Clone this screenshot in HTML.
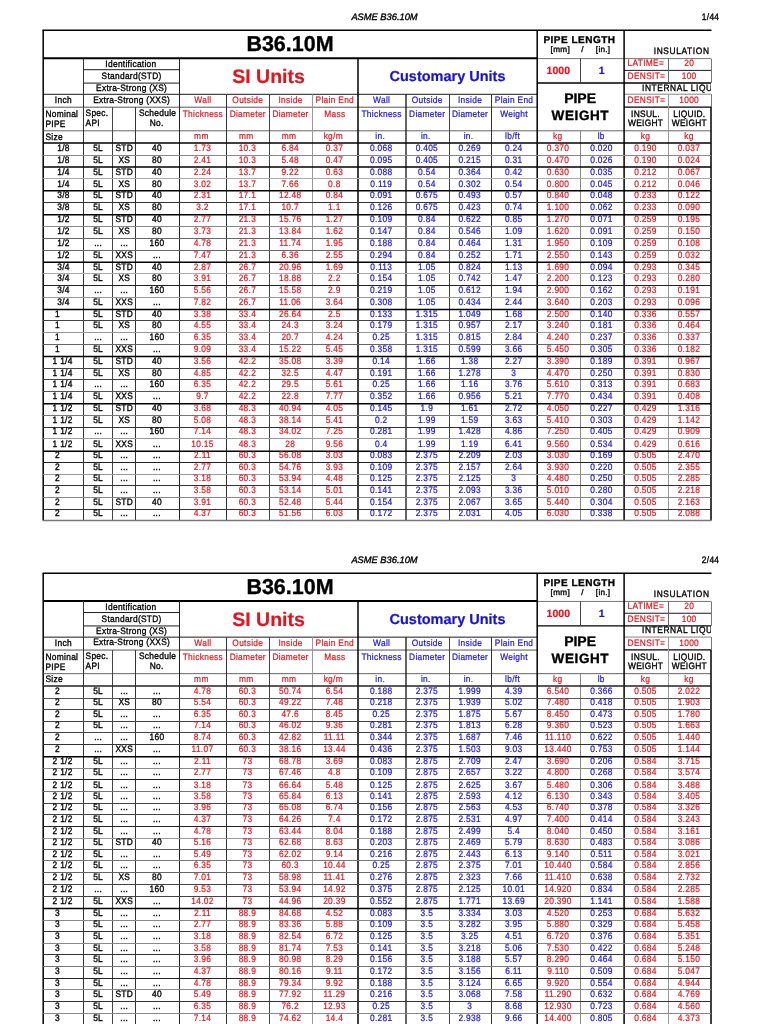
<!DOCTYPE html>
<html><head><meta charset="utf-8"><title>ASME B36.10M</title>
<style>
html,body{margin:0;padding:0;background:#fff;}
body{width:768px;height:1024px;overflow:hidden;}
svg{display:block;font-family:'Liberation Sans', Arial, sans-serif;text-rendering:geometricPrecision;}
text{fill:#000;stroke:#000;stroke-width:0.35;}
text.r{fill:#dc1820;stroke:#dc1820;stroke-width:0.22;}
text.b{fill:#1a14d0;stroke:#1a14d0;stroke-width:0.22;}
</style></head><body>
<svg width="768" height="1024" viewBox="0 0 768 1024" fill="#000">
<rect width="768" height="1024" fill="#fff"/>
<text x="384.50" y="20.00" font-size="9.3" text-anchor="middle" font-style="italic">ASME B36.10M</text>
<text x="290.00" y="50.80" font-size="21.5" text-anchor="middle" font-weight="bold">B36.10M</text>
<text x="268.50" y="82.70" font-size="19.5" text-anchor="middle" class="r" font-weight="bold">SI Units</text>
<text x="447.50" y="80.80" font-size="14.5" text-anchor="middle" class="b" font-weight="bold">Customary Units</text>
<text x="579.50" y="43.20" font-size="10" text-anchor="middle" font-weight="bold" letter-spacing="0.5">PIPE LENGTH</text>
<text x="560.30" y="52.30" font-size="8.2" text-anchor="middle" letter-spacing="0.3">[mm]</text>
<text x="582.40" y="52.30" font-size="8.2" text-anchor="middle">/</text>
<text x="603.10" y="52.30" font-size="8.2" text-anchor="middle" letter-spacing="0.25">[in.]</text>
<text x="558.30" y="73.80" font-size="10.5" text-anchor="middle" class="r" font-weight="bold">1000</text>
<text x="601.60" y="73.80" font-size="10.5" text-anchor="middle" class="b" font-weight="bold">1</text>
<text x="580.10" y="102.90" font-size="14" text-anchor="middle" font-weight="bold">PIPE</text>
<text x="580.40" y="120.00" font-size="13.5" text-anchor="middle" font-weight="bold" letter-spacing="0.6">WEIGHT</text>
<g clip-path="url(#clipR1)"><text x="713.33" y="90.50" font-size="9.3" letter-spacing="0.67" transform="scale(0.9,1)">INTERNAL LIQUID</text></g>
<clipPath id="clipR1"><rect x="600" y="80" width="111" height="20"/></clipPath>
<line x1="42.50" y1="30.30" x2="711.50" y2="30.30" stroke="#000" stroke-width="1.5"/>
<line x1="43.20" y1="30.30" x2="43.20" y2="520.20" stroke="#000" stroke-width="1.5"/>
<line x1="43.20" y1="58.20" x2="537.20" y2="58.20" stroke="#000" stroke-width="2"/>
<line x1="537.20" y1="58.60" x2="624.10" y2="58.60" stroke="#666" stroke-width="0.9"/>
<line x1="624.10" y1="58.60" x2="711.00" y2="58.60" stroke="#666" stroke-width="0.9"/>
<line x1="83.30" y1="69.70" x2="179.70" y2="69.70" stroke="#000" stroke-width="0.9"/>
<line x1="83.30" y1="83.10" x2="179.70" y2="83.10" stroke="#000" stroke-width="0.9"/>
<line x1="43.20" y1="94.30" x2="537.20" y2="94.30" stroke="#000" stroke-width="0.9"/>
<line x1="43.20" y1="107.20" x2="537.20" y2="107.20" stroke="#444" stroke-width="0.9"/>
<line x1="43.20" y1="130.80" x2="711.00" y2="130.80" stroke="#555" stroke-width="0.9"/>
<line x1="624.10" y1="70.40" x2="711.00" y2="70.40" stroke="#000" stroke-width="0.9"/>
<line x1="537.20" y1="83.00" x2="711.00" y2="83.00" stroke="#000" stroke-width="1.3"/>
<line x1="624.10" y1="94.20" x2="711.00" y2="94.20" stroke="#777" stroke-width="0.9"/>
<line x1="624.10" y1="107.10" x2="711.00" y2="107.10" stroke="#000" stroke-width="1.3"/>
<line x1="83.50" y1="58.20" x2="83.50" y2="520.20" stroke="#333" stroke-width="1"/>
<line x1="112.50" y1="107.20" x2="112.50" y2="520.20" stroke="#444" stroke-width="1"/>
<line x1="135.50" y1="107.20" x2="135.50" y2="520.20" stroke="#333" stroke-width="1"/>
<line x1="179.50" y1="58.20" x2="179.50" y2="520.20" stroke="#222" stroke-width="1"/>
<line x1="226.50" y1="94.30" x2="226.50" y2="520.20" stroke="#333" stroke-width="1"/>
<line x1="269.50" y1="94.30" x2="269.50" y2="520.20" stroke="#444" stroke-width="1"/>
<line x1="312.50" y1="94.30" x2="312.50" y2="520.20" stroke="#999" stroke-width="1"/>
<line x1="358.00" y1="58.20" x2="358.00" y2="520.20" stroke="#000" stroke-width="1.5"/>
<line x1="406.00" y1="94.30" x2="406.00" y2="520.20" stroke="#111" stroke-width="1.3"/>
<line x1="449.50" y1="94.30" x2="449.50" y2="520.20" stroke="#444" stroke-width="1"/>
<line x1="491.50" y1="94.30" x2="491.50" y2="520.20" stroke="#333" stroke-width="1"/>
<line x1="537.20" y1="30.30" x2="537.20" y2="520.20" stroke="#000" stroke-width="1.5"/>
<line x1="580.50" y1="58.60" x2="580.50" y2="83.00" stroke="#444" stroke-width="1"/>
<line x1="580.50" y1="130.80" x2="580.50" y2="520.20" stroke="#888" stroke-width="1"/>
<line x1="624.10" y1="30.30" x2="624.10" y2="520.20" stroke="#000" stroke-width="1.5"/>
<line x1="668.50" y1="58.60" x2="668.50" y2="83.00" stroke="#666" stroke-width="1"/>
<line x1="668.50" y1="94.20" x2="668.50" y2="520.20" stroke="#999" stroke-width="1"/>
<line x1="711.50" y1="58.60" x2="711.50" y2="83.00" stroke="#777" stroke-width="1"/>
<line x1="711.50" y1="94.20" x2="711.50" y2="107.10" stroke="#777" stroke-width="1"/>
<line x1="711.00" y1="107.10" x2="711.00" y2="520.20" stroke="#000" stroke-width="1.5"/>
<line x1="43.20" y1="143.10" x2="711.00" y2="143.10" stroke="#000" stroke-width="1.5"/>
<line x1="43.20" y1="155.50" x2="711.00" y2="155.50" stroke="#888" stroke-width="1"/>
<line x1="43.20" y1="167.10" x2="711.00" y2="167.10" stroke="#000" stroke-width="1.5"/>
<line x1="43.20" y1="178.50" x2="711.00" y2="178.50" stroke="#aaa" stroke-width="1"/>
<line x1="43.20" y1="190.80" x2="711.00" y2="190.80" stroke="#000" stroke-width="1.5"/>
<line x1="43.20" y1="202.50" x2="711.00" y2="202.50" stroke="#333" stroke-width="1"/>
<line x1="43.20" y1="214.70" x2="711.00" y2="214.70" stroke="#000" stroke-width="1.5"/>
<line x1="43.20" y1="226.50" x2="711.00" y2="226.50" stroke="#888" stroke-width="1"/>
<line x1="43.20" y1="238.50" x2="711.00" y2="238.50" stroke="#666" stroke-width="1"/>
<line x1="43.20" y1="250.50" x2="711.00" y2="250.50" stroke="#666" stroke-width="1"/>
<line x1="43.20" y1="262.30" x2="711.00" y2="262.30" stroke="#000" stroke-width="1.5"/>
<line x1="43.20" y1="273.50" x2="711.00" y2="273.50" stroke="#aaa" stroke-width="1"/>
<line x1="43.20" y1="285.50" x2="711.00" y2="285.50" stroke="#222" stroke-width="1"/>
<line x1="43.20" y1="297.50" x2="711.00" y2="297.50" stroke="#999" stroke-width="1"/>
<line x1="43.20" y1="309.40" x2="711.00" y2="309.40" stroke="#000" stroke-width="1.5"/>
<line x1="43.20" y1="320.50" x2="711.00" y2="320.50" stroke="#444" stroke-width="1"/>
<line x1="43.20" y1="332.50" x2="711.00" y2="332.50" stroke="#999" stroke-width="1"/>
<line x1="43.20" y1="344.50" x2="711.00" y2="344.50" stroke="#666" stroke-width="1"/>
<line x1="43.20" y1="356.40" x2="711.00" y2="356.40" stroke="#000" stroke-width="1.5"/>
<line x1="43.20" y1="368.50" x2="711.00" y2="368.50" stroke="#444" stroke-width="1"/>
<line x1="43.20" y1="379.50" x2="711.00" y2="379.50" stroke="#444" stroke-width="1"/>
<line x1="43.20" y1="391.50" x2="711.00" y2="391.50" stroke="#555" stroke-width="1"/>
<line x1="43.20" y1="403.70" x2="711.00" y2="403.70" stroke="#000" stroke-width="1.5"/>
<line x1="43.20" y1="415.50" x2="711.00" y2="415.50" stroke="#777" stroke-width="1"/>
<line x1="43.20" y1="427.50" x2="711.00" y2="427.50" stroke="#333" stroke-width="1"/>
<line x1="43.20" y1="438.50" x2="711.00" y2="438.50" stroke="#999" stroke-width="1"/>
<line x1="43.20" y1="451.20" x2="711.00" y2="451.20" stroke="#000" stroke-width="1.5"/>
<line x1="43.20" y1="462.50" x2="711.00" y2="462.50" stroke="#222" stroke-width="1"/>
<line x1="43.20" y1="474.50" x2="711.00" y2="474.50" stroke="#999" stroke-width="1"/>
<line x1="43.20" y1="485.50" x2="711.00" y2="485.50" stroke="#333" stroke-width="1"/>
<line x1="43.20" y1="497.50" x2="711.00" y2="497.50" stroke="#888" stroke-width="1"/>
<line x1="43.20" y1="509.50" x2="711.00" y2="509.50" stroke="#333" stroke-width="1"/>
<line x1="42.50" y1="520.60" x2="711.70" y2="520.60" stroke="#777" stroke-width="1.5"/>
<text x="384.50" y="562.85" font-size="9.3" text-anchor="middle" font-style="italic">ASME B36.10M</text>
<text x="290.00" y="593.65" font-size="21.5" text-anchor="middle" font-weight="bold">B36.10M</text>
<text x="268.50" y="625.55" font-size="19.5" text-anchor="middle" class="r" font-weight="bold">SI Units</text>
<text x="447.50" y="623.65" font-size="14.5" text-anchor="middle" class="b" font-weight="bold">Customary Units</text>
<text x="579.50" y="586.05" font-size="10" text-anchor="middle" font-weight="bold" letter-spacing="0.5">PIPE LENGTH</text>
<text x="560.30" y="595.15" font-size="8.2" text-anchor="middle" letter-spacing="0.3">[mm]</text>
<text x="582.40" y="595.15" font-size="8.2" text-anchor="middle">/</text>
<text x="603.10" y="595.15" font-size="8.2" text-anchor="middle" letter-spacing="0.25">[in.]</text>
<text x="558.30" y="616.65" font-size="10.5" text-anchor="middle" class="r" font-weight="bold">1000</text>
<text x="601.60" y="616.65" font-size="10.5" text-anchor="middle" class="b" font-weight="bold">1</text>
<text x="580.10" y="645.75" font-size="14" text-anchor="middle" font-weight="bold">PIPE</text>
<text x="580.40" y="662.85" font-size="13.5" text-anchor="middle" font-weight="bold" letter-spacing="0.6">WEIGHT</text>
<g clip-path="url(#clipR2)"><text x="713.33" y="633.35" font-size="9.3" letter-spacing="0.67" transform="scale(0.9,1)">INTERNAL LIQUID</text></g>
<clipPath id="clipR2"><rect x="600" y="622.85" width="111" height="20"/></clipPath>
<line x1="42.50" y1="573.15" x2="711.50" y2="573.15" stroke="#000" stroke-width="1.5"/>
<line x1="43.20" y1="573.15" x2="43.20" y2="1024.00" stroke="#000" stroke-width="1.5"/>
<line x1="43.20" y1="601.05" x2="537.20" y2="601.05" stroke="#000" stroke-width="2"/>
<line x1="537.20" y1="601.45" x2="624.10" y2="601.45" stroke="#666" stroke-width="0.9"/>
<line x1="624.10" y1="601.45" x2="711.00" y2="601.45" stroke="#666" stroke-width="0.9"/>
<line x1="83.30" y1="612.55" x2="179.70" y2="612.55" stroke="#000" stroke-width="0.9"/>
<line x1="83.30" y1="625.95" x2="179.70" y2="625.95" stroke="#000" stroke-width="0.9"/>
<line x1="43.20" y1="637.15" x2="537.20" y2="637.15" stroke="#000" stroke-width="0.9"/>
<line x1="43.20" y1="650.05" x2="537.20" y2="650.05" stroke="#444" stroke-width="0.9"/>
<line x1="43.20" y1="673.65" x2="711.00" y2="673.65" stroke="#555" stroke-width="0.9"/>
<line x1="624.10" y1="613.25" x2="711.00" y2="613.25" stroke="#000" stroke-width="0.9"/>
<line x1="537.20" y1="625.85" x2="711.00" y2="625.85" stroke="#000" stroke-width="1.3"/>
<line x1="624.10" y1="637.05" x2="711.00" y2="637.05" stroke="#777" stroke-width="0.9"/>
<line x1="624.10" y1="649.95" x2="711.00" y2="649.95" stroke="#000" stroke-width="1.3"/>
<line x1="83.50" y1="601.05" x2="83.50" y2="1024.00" stroke="#333" stroke-width="1"/>
<line x1="112.50" y1="650.05" x2="112.50" y2="1024.00" stroke="#444" stroke-width="1"/>
<line x1="135.50" y1="650.05" x2="135.50" y2="1024.00" stroke="#333" stroke-width="1"/>
<line x1="179.50" y1="601.05" x2="179.50" y2="1024.00" stroke="#222" stroke-width="1"/>
<line x1="226.50" y1="637.15" x2="226.50" y2="1024.00" stroke="#333" stroke-width="1"/>
<line x1="269.50" y1="637.15" x2="269.50" y2="1024.00" stroke="#444" stroke-width="1"/>
<line x1="312.50" y1="637.15" x2="312.50" y2="1024.00" stroke="#999" stroke-width="1"/>
<line x1="358.00" y1="601.05" x2="358.00" y2="1024.00" stroke="#000" stroke-width="1.5"/>
<line x1="406.00" y1="637.15" x2="406.00" y2="1024.00" stroke="#111" stroke-width="1.3"/>
<line x1="449.50" y1="637.15" x2="449.50" y2="1024.00" stroke="#444" stroke-width="1"/>
<line x1="491.50" y1="637.15" x2="491.50" y2="1024.00" stroke="#333" stroke-width="1"/>
<line x1="537.20" y1="573.15" x2="537.20" y2="1024.00" stroke="#000" stroke-width="1.5"/>
<line x1="580.50" y1="601.45" x2="580.50" y2="625.85" stroke="#444" stroke-width="1"/>
<line x1="580.50" y1="673.65" x2="580.50" y2="1024.00" stroke="#888" stroke-width="1"/>
<line x1="624.10" y1="573.15" x2="624.10" y2="1024.00" stroke="#000" stroke-width="1.5"/>
<line x1="668.50" y1="601.45" x2="668.50" y2="625.85" stroke="#666" stroke-width="1"/>
<line x1="668.50" y1="637.05" x2="668.50" y2="1024.00" stroke="#999" stroke-width="1"/>
<line x1="711.50" y1="601.45" x2="711.50" y2="625.85" stroke="#777" stroke-width="1"/>
<line x1="711.50" y1="637.05" x2="711.50" y2="649.95" stroke="#777" stroke-width="1"/>
<line x1="711.00" y1="649.95" x2="711.00" y2="1024.00" stroke="#000" stroke-width="1.5"/>
<line x1="43.20" y1="685.90" x2="711.00" y2="685.90" stroke="#222" stroke-width="1.5"/>
<line x1="43.20" y1="698.50" x2="711.00" y2="698.50" stroke="#555" stroke-width="1"/>
<line x1="43.20" y1="709.50" x2="711.00" y2="709.50" stroke="#444" stroke-width="1"/>
<line x1="43.20" y1="721.50" x2="711.00" y2="721.50" stroke="#444" stroke-width="1"/>
<line x1="43.20" y1="732.50" x2="711.00" y2="732.50" stroke="#444" stroke-width="1"/>
<line x1="43.20" y1="744.50" x2="711.00" y2="744.50" stroke="#333" stroke-width="1"/>
<line x1="43.20" y1="756.70" x2="711.00" y2="756.70" stroke="#000" stroke-width="1.5"/>
<line x1="43.20" y1="768.50" x2="711.00" y2="768.50" stroke="#888" stroke-width="1"/>
<line x1="43.20" y1="779.50" x2="711.00" y2="779.50" stroke="#222" stroke-width="1"/>
<line x1="43.20" y1="791.50" x2="711.00" y2="791.50" stroke="#777" stroke-width="1"/>
<line x1="43.20" y1="803.50" x2="711.00" y2="803.50" stroke="#444" stroke-width="1"/>
<line x1="43.20" y1="814.50" x2="711.00" y2="814.50" stroke="#444" stroke-width="1"/>
<line x1="43.20" y1="826.50" x2="711.00" y2="826.50" stroke="#222" stroke-width="1"/>
<line x1="43.20" y1="838.50" x2="711.00" y2="838.50" stroke="#999" stroke-width="1"/>
<line x1="43.20" y1="849.50" x2="711.00" y2="849.50" stroke="#555" stroke-width="1"/>
<line x1="43.20" y1="860.50" x2="711.00" y2="860.50" stroke="#777" stroke-width="1"/>
<line x1="43.20" y1="872.50" x2="711.00" y2="872.50" stroke="#666" stroke-width="1"/>
<line x1="43.20" y1="884.50" x2="711.00" y2="884.50" stroke="#444" stroke-width="1"/>
<line x1="43.20" y1="896.50" x2="711.00" y2="896.50" stroke="#444" stroke-width="1"/>
<line x1="43.20" y1="908.40" x2="711.00" y2="908.40" stroke="#000" stroke-width="1.5"/>
<line x1="43.20" y1="920.50" x2="711.00" y2="920.50" stroke="#888" stroke-width="1"/>
<line x1="43.20" y1="931.50" x2="711.00" y2="931.50" stroke="#333" stroke-width="1"/>
<line x1="43.20" y1="943.50" x2="711.00" y2="943.50" stroke="#888" stroke-width="1"/>
<line x1="43.20" y1="954.50" x2="711.00" y2="954.50" stroke="#333" stroke-width="1"/>
<line x1="43.20" y1="966.50" x2="711.00" y2="966.50" stroke="#777" stroke-width="1"/>
<line x1="43.20" y1="978.50" x2="711.00" y2="978.50" stroke="#222" stroke-width="1"/>
<line x1="43.20" y1="989.50" x2="711.00" y2="989.50" stroke="#888" stroke-width="1"/>
<line x1="43.20" y1="1001.50" x2="711.00" y2="1001.50" stroke="#333" stroke-width="1"/>
<line x1="43.20" y1="1013.50" x2="711.00" y2="1013.50" stroke="#888" stroke-width="1"/>
<line x1="43.20" y1="1024.50" x2="711.00" y2="1024.50" stroke="#666" stroke-width="1"/>
<g transform="scale(0.9,1)">
<text x="799.22" y="19.80" font-size="9.3" text-anchor="end" letter-spacing="0.33">1/44</text>
<text x="145.50" y="66.70" font-size="9.3" text-anchor="middle" letter-spacing="0.33">Identification</text>
<text x="146.28" y="79.20" font-size="9.3" text-anchor="middle" letter-spacing="0.33">Standard(STD)</text>
<text x="146.28" y="91.40" font-size="9.3" text-anchor="middle" letter-spacing="0.33">Extra-Strong (XS)</text>
<text x="70.39" y="102.70" font-size="9.3" text-anchor="middle" letter-spacing="0.33">Inch</text>
<text x="146.28" y="102.60" font-size="9.3" text-anchor="middle" letter-spacing="0.33">Extra-Strong (XXS)</text>
<text x="50.56" y="116.90" font-size="9.3" letter-spacing="0.33">Nominal</text>
<text x="50.56" y="127.00" font-size="9.3" letter-spacing="0.33">PIPE</text>
<text x="95.00" y="116.40" font-size="9.3" letter-spacing="0.33">Spec.</text>
<text x="95.00" y="126.10" font-size="9.3" letter-spacing="0.33">API</text>
<text x="175.16" y="116.00" font-size="9.3" text-anchor="middle" letter-spacing="0.33">Schedule</text>
<text x="174.05" y="126.10" font-size="9.3" text-anchor="middle" letter-spacing="0.33">No.</text>
<text x="50.56" y="139.60" font-size="9.3" letter-spacing="0.33">Size</text>
<text x="225.44" y="102.70" font-size="9.3" text-anchor="middle" class="r" letter-spacing="0.33">Wall</text>
<text x="225.44" y="117.00" font-size="9.3" text-anchor="middle" class="r" letter-spacing="0.33">Thickness</text>
<text x="223.78" y="139.10" font-size="9.3" text-anchor="middle" class="r" letter-spacing="0.33">mm</text>
<text x="424.05" y="102.70" font-size="9.3" text-anchor="middle" class="b" letter-spacing="0.33">Wall</text>
<text x="424.05" y="117.00" font-size="9.3" text-anchor="middle" class="b" letter-spacing="0.33">Thickness</text>
<text x="422.39" y="139.10" font-size="9.3" text-anchor="middle" class="b" letter-spacing="0.33">in.</text>
<text x="275.33" y="102.70" font-size="9.3" text-anchor="middle" class="r" letter-spacing="0.33">Outside</text>
<text x="275.33" y="117.00" font-size="9.3" text-anchor="middle" class="r" letter-spacing="0.33">Diameter</text>
<text x="273.67" y="139.10" font-size="9.3" text-anchor="middle" class="r" letter-spacing="0.33">mm</text>
<text x="474.72" y="102.70" font-size="9.3" text-anchor="middle" class="b" letter-spacing="0.33">Outside</text>
<text x="474.72" y="117.00" font-size="9.3" text-anchor="middle" class="b" letter-spacing="0.33">Diameter</text>
<text x="473.05" y="139.10" font-size="9.3" text-anchor="middle" class="b" letter-spacing="0.33">in.</text>
<text x="322.83" y="102.70" font-size="9.3" text-anchor="middle" class="r" letter-spacing="0.33">Inside</text>
<text x="322.83" y="117.00" font-size="9.3" text-anchor="middle" class="r" letter-spacing="0.33">Diameter</text>
<text x="321.16" y="139.10" font-size="9.3" text-anchor="middle" class="r" letter-spacing="0.33">mm</text>
<text x="522.28" y="102.70" font-size="9.3" text-anchor="middle" class="b" letter-spacing="0.33">Inside</text>
<text x="522.28" y="117.00" font-size="9.3" text-anchor="middle" class="b" letter-spacing="0.33">Diameter</text>
<text x="520.61" y="139.10" font-size="9.3" text-anchor="middle" class="b" letter-spacing="0.33">in.</text>
<text x="372.00" y="102.70" font-size="9.3" text-anchor="middle" class="r" letter-spacing="0.33">Plain End</text>
<text x="372.00" y="117.00" font-size="9.3" text-anchor="middle" class="r" letter-spacing="0.33">Mass</text>
<text x="370.33" y="139.10" font-size="9.3" text-anchor="middle" class="r" letter-spacing="0.33">kg/m</text>
<text x="571.17" y="102.70" font-size="9.3" text-anchor="middle" class="b" letter-spacing="0.33">Plain End</text>
<text x="571.17" y="117.00" font-size="9.3" text-anchor="middle" class="b" letter-spacing="0.33">Weight</text>
<text x="569.50" y="139.10" font-size="9.3" text-anchor="middle" class="b" letter-spacing="0.33">lb/ft</text>
<text x="619.83" y="139.10" font-size="9.3" text-anchor="middle" class="r" letter-spacing="0.33">kg</text>
<text x="668.05" y="139.10" font-size="9.3" text-anchor="middle" class="b" letter-spacing="0.33">lb</text>
<text x="788.48" y="54.30" font-size="9.3" text-anchor="end" letter-spacing="0.7">INSULATION</text>
<text x="697.33" y="65.70" font-size="9.3" class="r" letter-spacing="0.33">LATIME=</text>
<text x="765.72" y="65.70" font-size="9.3" text-anchor="middle" class="r" letter-spacing="0.33">20</text>
<text x="697.33" y="78.70" font-size="9.3" class="r" letter-spacing="0.33">DENSIT=</text>
<text x="765.72" y="78.70" font-size="9.3" text-anchor="middle" class="r" letter-spacing="0.33">100</text>
<text x="697.33" y="102.90" font-size="9.3" class="r" letter-spacing="0.33">DENSIT=</text>
<text x="765.72" y="102.90" font-size="9.3" text-anchor="middle" class="r" letter-spacing="0.33">1000</text>
<text x="717.16" y="116.80" font-size="9.3" text-anchor="middle" letter-spacing="0.33">INSUL.</text>
<text x="717.39" y="126.40" font-size="9.3" text-anchor="middle" letter-spacing="0.33">WEIGHT</text>
<text x="765.94" y="116.80" font-size="9.3" text-anchor="middle" letter-spacing="0.33">LIQUID.</text>
<text x="765.94" y="126.40" font-size="9.3" text-anchor="middle" letter-spacing="0.33">WEIGHT</text>
<text x="717.16" y="139.10" font-size="9.3" text-anchor="middle" class="r" letter-spacing="0.33">kg</text>
<text x="765.50" y="139.10" font-size="9.3" text-anchor="middle" class="r" letter-spacing="0.33">kg</text>
<text x="63.67" y="150.80" font-size="9.3" letter-spacing="0.33">1/8</text>
<text x="109.00" y="150.80" font-size="9.3" text-anchor="middle" letter-spacing="0.33">5L</text>
<text x="138.11" y="150.80" font-size="9.3" text-anchor="middle" letter-spacing="0.33">STD</text>
<text x="174.39" y="150.80" font-size="9.3" text-anchor="middle" letter-spacing="0.33">40</text>
<text x="225.00" y="150.80" font-size="9.3" text-anchor="middle" class="r" letter-spacing="0.33">1.73</text>
<text x="423.61" y="150.80" font-size="9.3" text-anchor="middle" class="b" letter-spacing="0.33">0.068</text>
<text x="274.89" y="150.80" font-size="9.3" text-anchor="middle" class="r" letter-spacing="0.33">10.3</text>
<text x="474.28" y="150.80" font-size="9.3" text-anchor="middle" class="b" letter-spacing="0.33">0.405</text>
<text x="322.39" y="150.80" font-size="9.3" text-anchor="middle" class="r" letter-spacing="0.33">6.84</text>
<text x="521.83" y="150.80" font-size="9.3" text-anchor="middle" class="b" letter-spacing="0.33">0.269</text>
<text x="371.55" y="150.80" font-size="9.3" text-anchor="middle" class="r" letter-spacing="0.33">0.37</text>
<text x="570.72" y="150.80" font-size="9.3" text-anchor="middle" class="b" letter-spacing="0.33">0.24</text>
<text x="620.05" y="150.80" font-size="9.3" text-anchor="middle" class="r" letter-spacing="0.33">0.370</text>
<text x="668.33" y="150.80" font-size="9.3" text-anchor="middle" class="b" letter-spacing="0.33">0.020</text>
<text x="717.17" y="150.80" font-size="9.3" text-anchor="middle" class="r" letter-spacing="0.33">0.190</text>
<text x="765.44" y="150.80" font-size="9.3" text-anchor="middle" class="r" letter-spacing="0.33">0.037</text>
<text x="63.67" y="162.80" font-size="9.3" letter-spacing="0.33">1/8</text>
<text x="109.00" y="162.80" font-size="9.3" text-anchor="middle" letter-spacing="0.33">5L</text>
<text x="138.11" y="162.80" font-size="9.3" text-anchor="middle" letter-spacing="0.33">XS</text>
<text x="174.39" y="162.80" font-size="9.3" text-anchor="middle" letter-spacing="0.33">80</text>
<text x="225.00" y="162.80" font-size="9.3" text-anchor="middle" class="r" letter-spacing="0.33">2.41</text>
<text x="423.61" y="162.80" font-size="9.3" text-anchor="middle" class="b" letter-spacing="0.33">0.095</text>
<text x="274.89" y="162.80" font-size="9.3" text-anchor="middle" class="r" letter-spacing="0.33">10.3</text>
<text x="474.28" y="162.80" font-size="9.3" text-anchor="middle" class="b" letter-spacing="0.33">0.405</text>
<text x="322.39" y="162.80" font-size="9.3" text-anchor="middle" class="r" letter-spacing="0.33">5.48</text>
<text x="521.83" y="162.80" font-size="9.3" text-anchor="middle" class="b" letter-spacing="0.33">0.215</text>
<text x="371.55" y="162.80" font-size="9.3" text-anchor="middle" class="r" letter-spacing="0.33">0.47</text>
<text x="570.72" y="162.80" font-size="9.3" text-anchor="middle" class="b" letter-spacing="0.33">0.31</text>
<text x="620.05" y="162.80" font-size="9.3" text-anchor="middle" class="r" letter-spacing="0.33">0.470</text>
<text x="668.33" y="162.80" font-size="9.3" text-anchor="middle" class="b" letter-spacing="0.33">0.026</text>
<text x="717.17" y="162.80" font-size="9.3" text-anchor="middle" class="r" letter-spacing="0.33">0.190</text>
<text x="765.44" y="162.80" font-size="9.3" text-anchor="middle" class="r" letter-spacing="0.33">0.024</text>
<text x="63.67" y="174.60" font-size="9.3" letter-spacing="0.33">1/4</text>
<text x="109.00" y="174.60" font-size="9.3" text-anchor="middle" letter-spacing="0.33">5L</text>
<text x="138.11" y="174.60" font-size="9.3" text-anchor="middle" letter-spacing="0.33">STD</text>
<text x="174.39" y="174.60" font-size="9.3" text-anchor="middle" letter-spacing="0.33">40</text>
<text x="225.00" y="174.60" font-size="9.3" text-anchor="middle" class="r" letter-spacing="0.33">2.24</text>
<text x="423.61" y="174.60" font-size="9.3" text-anchor="middle" class="b" letter-spacing="0.33">0.088</text>
<text x="274.89" y="174.60" font-size="9.3" text-anchor="middle" class="r" letter-spacing="0.33">13.7</text>
<text x="474.28" y="174.60" font-size="9.3" text-anchor="middle" class="b" letter-spacing="0.33">0.54</text>
<text x="322.39" y="174.60" font-size="9.3" text-anchor="middle" class="r" letter-spacing="0.33">9.22</text>
<text x="521.83" y="174.60" font-size="9.3" text-anchor="middle" class="b" letter-spacing="0.33">0.364</text>
<text x="371.55" y="174.60" font-size="9.3" text-anchor="middle" class="r" letter-spacing="0.33">0.63</text>
<text x="570.72" y="174.60" font-size="9.3" text-anchor="middle" class="b" letter-spacing="0.33">0.42</text>
<text x="620.05" y="174.60" font-size="9.3" text-anchor="middle" class="r" letter-spacing="0.33">0.630</text>
<text x="668.33" y="174.60" font-size="9.3" text-anchor="middle" class="b" letter-spacing="0.33">0.035</text>
<text x="717.17" y="174.60" font-size="9.3" text-anchor="middle" class="r" letter-spacing="0.33">0.212</text>
<text x="765.44" y="174.60" font-size="9.3" text-anchor="middle" class="r" letter-spacing="0.33">0.067</text>
<text x="63.67" y="186.50" font-size="9.3" letter-spacing="0.33">1/4</text>
<text x="109.00" y="186.50" font-size="9.3" text-anchor="middle" letter-spacing="0.33">5L</text>
<text x="138.11" y="186.50" font-size="9.3" text-anchor="middle" letter-spacing="0.33">XS</text>
<text x="174.39" y="186.50" font-size="9.3" text-anchor="middle" letter-spacing="0.33">80</text>
<text x="225.00" y="186.50" font-size="9.3" text-anchor="middle" class="r" letter-spacing="0.33">3.02</text>
<text x="423.61" y="186.50" font-size="9.3" text-anchor="middle" class="b" letter-spacing="0.33">0.119</text>
<text x="274.89" y="186.50" font-size="9.3" text-anchor="middle" class="r" letter-spacing="0.33">13.7</text>
<text x="474.28" y="186.50" font-size="9.3" text-anchor="middle" class="b" letter-spacing="0.33">0.54</text>
<text x="322.39" y="186.50" font-size="9.3" text-anchor="middle" class="r" letter-spacing="0.33">7.66</text>
<text x="521.83" y="186.50" font-size="9.3" text-anchor="middle" class="b" letter-spacing="0.33">0.302</text>
<text x="371.55" y="186.50" font-size="9.3" text-anchor="middle" class="r" letter-spacing="0.33">0.8</text>
<text x="570.72" y="186.50" font-size="9.3" text-anchor="middle" class="b" letter-spacing="0.33">0.54</text>
<text x="620.05" y="186.50" font-size="9.3" text-anchor="middle" class="r" letter-spacing="0.33">0.800</text>
<text x="668.33" y="186.50" font-size="9.3" text-anchor="middle" class="b" letter-spacing="0.33">0.045</text>
<text x="717.17" y="186.50" font-size="9.3" text-anchor="middle" class="r" letter-spacing="0.33">0.212</text>
<text x="765.44" y="186.50" font-size="9.3" text-anchor="middle" class="r" letter-spacing="0.33">0.046</text>
<text x="63.67" y="198.00" font-size="9.3" letter-spacing="0.33">3/8</text>
<text x="109.00" y="198.00" font-size="9.3" text-anchor="middle" letter-spacing="0.33">5L</text>
<text x="138.11" y="198.00" font-size="9.3" text-anchor="middle" letter-spacing="0.33">STD</text>
<text x="174.39" y="198.00" font-size="9.3" text-anchor="middle" letter-spacing="0.33">40</text>
<text x="225.00" y="198.00" font-size="9.3" text-anchor="middle" class="r" letter-spacing="0.33">2.31</text>
<text x="423.61" y="198.00" font-size="9.3" text-anchor="middle" class="b" letter-spacing="0.33">0.091</text>
<text x="274.89" y="198.00" font-size="9.3" text-anchor="middle" class="r" letter-spacing="0.33">17.1</text>
<text x="474.28" y="198.00" font-size="9.3" text-anchor="middle" class="b" letter-spacing="0.33">0.675</text>
<text x="322.39" y="198.00" font-size="9.3" text-anchor="middle" class="r" letter-spacing="0.33">12.48</text>
<text x="521.83" y="198.00" font-size="9.3" text-anchor="middle" class="b" letter-spacing="0.33">0.493</text>
<text x="371.55" y="198.00" font-size="9.3" text-anchor="middle" class="r" letter-spacing="0.33">0.84</text>
<text x="570.72" y="198.00" font-size="9.3" text-anchor="middle" class="b" letter-spacing="0.33">0.57</text>
<text x="620.05" y="198.00" font-size="9.3" text-anchor="middle" class="r" letter-spacing="0.33">0.840</text>
<text x="668.33" y="198.00" font-size="9.3" text-anchor="middle" class="b" letter-spacing="0.33">0.048</text>
<text x="717.17" y="198.00" font-size="9.3" text-anchor="middle" class="r" letter-spacing="0.33">0.233</text>
<text x="765.44" y="198.00" font-size="9.3" text-anchor="middle" class="r" letter-spacing="0.33">0.122</text>
<text x="63.67" y="210.40" font-size="9.3" letter-spacing="0.33">3/8</text>
<text x="109.00" y="210.40" font-size="9.3" text-anchor="middle" letter-spacing="0.33">5L</text>
<text x="138.11" y="210.40" font-size="9.3" text-anchor="middle" letter-spacing="0.33">XS</text>
<text x="174.39" y="210.40" font-size="9.3" text-anchor="middle" letter-spacing="0.33">80</text>
<text x="225.00" y="210.40" font-size="9.3" text-anchor="middle" class="r" letter-spacing="0.33">3.2</text>
<text x="423.61" y="210.40" font-size="9.3" text-anchor="middle" class="b" letter-spacing="0.33">0.126</text>
<text x="274.89" y="210.40" font-size="9.3" text-anchor="middle" class="r" letter-spacing="0.33">17.1</text>
<text x="474.28" y="210.40" font-size="9.3" text-anchor="middle" class="b" letter-spacing="0.33">0.675</text>
<text x="322.39" y="210.40" font-size="9.3" text-anchor="middle" class="r" letter-spacing="0.33">10.7</text>
<text x="521.83" y="210.40" font-size="9.3" text-anchor="middle" class="b" letter-spacing="0.33">0.423</text>
<text x="371.55" y="210.40" font-size="9.3" text-anchor="middle" class="r" letter-spacing="0.33">1.1</text>
<text x="570.72" y="210.40" font-size="9.3" text-anchor="middle" class="b" letter-spacing="0.33">0.74</text>
<text x="620.05" y="210.40" font-size="9.3" text-anchor="middle" class="r" letter-spacing="0.33">1.100</text>
<text x="668.33" y="210.40" font-size="9.3" text-anchor="middle" class="b" letter-spacing="0.33">0.062</text>
<text x="717.17" y="210.40" font-size="9.3" text-anchor="middle" class="r" letter-spacing="0.33">0.233</text>
<text x="765.44" y="210.40" font-size="9.3" text-anchor="middle" class="r" letter-spacing="0.33">0.090</text>
<text x="63.67" y="222.10" font-size="9.3" letter-spacing="0.33">1/2</text>
<text x="109.00" y="222.10" font-size="9.3" text-anchor="middle" letter-spacing="0.33">5L</text>
<text x="138.11" y="222.10" font-size="9.3" text-anchor="middle" letter-spacing="0.33">STD</text>
<text x="174.39" y="222.10" font-size="9.3" text-anchor="middle" letter-spacing="0.33">40</text>
<text x="225.00" y="222.10" font-size="9.3" text-anchor="middle" class="r" letter-spacing="0.33">2.77</text>
<text x="423.61" y="222.10" font-size="9.3" text-anchor="middle" class="b" letter-spacing="0.33">0.109</text>
<text x="274.89" y="222.10" font-size="9.3" text-anchor="middle" class="r" letter-spacing="0.33">21.3</text>
<text x="474.28" y="222.10" font-size="9.3" text-anchor="middle" class="b" letter-spacing="0.33">0.84</text>
<text x="322.39" y="222.10" font-size="9.3" text-anchor="middle" class="r" letter-spacing="0.33">15.76</text>
<text x="521.83" y="222.10" font-size="9.3" text-anchor="middle" class="b" letter-spacing="0.33">0.622</text>
<text x="371.55" y="222.10" font-size="9.3" text-anchor="middle" class="r" letter-spacing="0.33">1.27</text>
<text x="570.72" y="222.10" font-size="9.3" text-anchor="middle" class="b" letter-spacing="0.33">0.85</text>
<text x="620.05" y="222.10" font-size="9.3" text-anchor="middle" class="r" letter-spacing="0.33">1.270</text>
<text x="668.33" y="222.10" font-size="9.3" text-anchor="middle" class="b" letter-spacing="0.33">0.071</text>
<text x="717.17" y="222.10" font-size="9.3" text-anchor="middle" class="r" letter-spacing="0.33">0.259</text>
<text x="765.44" y="222.10" font-size="9.3" text-anchor="middle" class="r" letter-spacing="0.33">0.195</text>
<text x="63.67" y="233.80" font-size="9.3" letter-spacing="0.33">1/2</text>
<text x="109.00" y="233.80" font-size="9.3" text-anchor="middle" letter-spacing="0.33">5L</text>
<text x="138.11" y="233.80" font-size="9.3" text-anchor="middle" letter-spacing="0.33">XS</text>
<text x="174.39" y="233.80" font-size="9.3" text-anchor="middle" letter-spacing="0.33">80</text>
<text x="225.00" y="233.80" font-size="9.3" text-anchor="middle" class="r" letter-spacing="0.33">3.73</text>
<text x="423.61" y="233.80" font-size="9.3" text-anchor="middle" class="b" letter-spacing="0.33">0.147</text>
<text x="274.89" y="233.80" font-size="9.3" text-anchor="middle" class="r" letter-spacing="0.33">21.3</text>
<text x="474.28" y="233.80" font-size="9.3" text-anchor="middle" class="b" letter-spacing="0.33">0.84</text>
<text x="322.39" y="233.80" font-size="9.3" text-anchor="middle" class="r" letter-spacing="0.33">13.84</text>
<text x="521.83" y="233.80" font-size="9.3" text-anchor="middle" class="b" letter-spacing="0.33">0.546</text>
<text x="371.55" y="233.80" font-size="9.3" text-anchor="middle" class="r" letter-spacing="0.33">1.62</text>
<text x="570.72" y="233.80" font-size="9.3" text-anchor="middle" class="b" letter-spacing="0.33">1.09</text>
<text x="620.05" y="233.80" font-size="9.3" text-anchor="middle" class="r" letter-spacing="0.33">1.620</text>
<text x="668.33" y="233.80" font-size="9.3" text-anchor="middle" class="b" letter-spacing="0.33">0.091</text>
<text x="717.17" y="233.80" font-size="9.3" text-anchor="middle" class="r" letter-spacing="0.33">0.259</text>
<text x="765.44" y="233.80" font-size="9.3" text-anchor="middle" class="r" letter-spacing="0.33">0.150</text>
<text x="63.67" y="245.80" font-size="9.3" letter-spacing="0.33">1/2</text>
<text x="109.00" y="245.80" font-size="9.3" text-anchor="middle" letter-spacing="0.33">...</text>
<text x="138.11" y="245.80" font-size="9.3" text-anchor="middle" letter-spacing="0.33">...</text>
<text x="174.39" y="245.80" font-size="9.3" text-anchor="middle" letter-spacing="0.33">160</text>
<text x="225.00" y="245.80" font-size="9.3" text-anchor="middle" class="r" letter-spacing="0.33">4.78</text>
<text x="423.61" y="245.80" font-size="9.3" text-anchor="middle" class="b" letter-spacing="0.33">0.188</text>
<text x="274.89" y="245.80" font-size="9.3" text-anchor="middle" class="r" letter-spacing="0.33">21.3</text>
<text x="474.28" y="245.80" font-size="9.3" text-anchor="middle" class="b" letter-spacing="0.33">0.84</text>
<text x="322.39" y="245.80" font-size="9.3" text-anchor="middle" class="r" letter-spacing="0.33">11.74</text>
<text x="521.83" y="245.80" font-size="9.3" text-anchor="middle" class="b" letter-spacing="0.33">0.464</text>
<text x="371.55" y="245.80" font-size="9.3" text-anchor="middle" class="r" letter-spacing="0.33">1.95</text>
<text x="570.72" y="245.80" font-size="9.3" text-anchor="middle" class="b" letter-spacing="0.33">1.31</text>
<text x="620.05" y="245.80" font-size="9.3" text-anchor="middle" class="r" letter-spacing="0.33">1.950</text>
<text x="668.33" y="245.80" font-size="9.3" text-anchor="middle" class="b" letter-spacing="0.33">0.109</text>
<text x="717.17" y="245.80" font-size="9.3" text-anchor="middle" class="r" letter-spacing="0.33">0.259</text>
<text x="765.44" y="245.80" font-size="9.3" text-anchor="middle" class="r" letter-spacing="0.33">0.108</text>
<text x="63.67" y="258.00" font-size="9.3" letter-spacing="0.33">1/2</text>
<text x="109.00" y="258.00" font-size="9.3" text-anchor="middle" letter-spacing="0.33">5L</text>
<text x="138.11" y="258.00" font-size="9.3" text-anchor="middle" letter-spacing="0.33">XXS</text>
<text x="174.39" y="258.00" font-size="9.3" text-anchor="middle" letter-spacing="0.33">...</text>
<text x="225.00" y="258.00" font-size="9.3" text-anchor="middle" class="r" letter-spacing="0.33">7.47</text>
<text x="423.61" y="258.00" font-size="9.3" text-anchor="middle" class="b" letter-spacing="0.33">0.294</text>
<text x="274.89" y="258.00" font-size="9.3" text-anchor="middle" class="r" letter-spacing="0.33">21.3</text>
<text x="474.28" y="258.00" font-size="9.3" text-anchor="middle" class="b" letter-spacing="0.33">0.84</text>
<text x="322.39" y="258.00" font-size="9.3" text-anchor="middle" class="r" letter-spacing="0.33">6.36</text>
<text x="521.83" y="258.00" font-size="9.3" text-anchor="middle" class="b" letter-spacing="0.33">0.252</text>
<text x="371.55" y="258.00" font-size="9.3" text-anchor="middle" class="r" letter-spacing="0.33">2.55</text>
<text x="570.72" y="258.00" font-size="9.3" text-anchor="middle" class="b" letter-spacing="0.33">1.71</text>
<text x="620.05" y="258.00" font-size="9.3" text-anchor="middle" class="r" letter-spacing="0.33">2.550</text>
<text x="668.33" y="258.00" font-size="9.3" text-anchor="middle" class="b" letter-spacing="0.33">0.143</text>
<text x="717.17" y="258.00" font-size="9.3" text-anchor="middle" class="r" letter-spacing="0.33">0.259</text>
<text x="765.44" y="258.00" font-size="9.3" text-anchor="middle" class="r" letter-spacing="0.33">0.032</text>
<text x="63.67" y="269.60" font-size="9.3" letter-spacing="0.33">3/4</text>
<text x="109.00" y="269.60" font-size="9.3" text-anchor="middle" letter-spacing="0.33">5L</text>
<text x="138.11" y="269.60" font-size="9.3" text-anchor="middle" letter-spacing="0.33">STD</text>
<text x="174.39" y="269.60" font-size="9.3" text-anchor="middle" letter-spacing="0.33">40</text>
<text x="225.00" y="269.60" font-size="9.3" text-anchor="middle" class="r" letter-spacing="0.33">2.87</text>
<text x="423.61" y="269.60" font-size="9.3" text-anchor="middle" class="b" letter-spacing="0.33">0.113</text>
<text x="274.89" y="269.60" font-size="9.3" text-anchor="middle" class="r" letter-spacing="0.33">26.7</text>
<text x="474.28" y="269.60" font-size="9.3" text-anchor="middle" class="b" letter-spacing="0.33">1.05</text>
<text x="322.39" y="269.60" font-size="9.3" text-anchor="middle" class="r" letter-spacing="0.33">20.96</text>
<text x="521.83" y="269.60" font-size="9.3" text-anchor="middle" class="b" letter-spacing="0.33">0.824</text>
<text x="371.55" y="269.60" font-size="9.3" text-anchor="middle" class="r" letter-spacing="0.33">1.69</text>
<text x="570.72" y="269.60" font-size="9.3" text-anchor="middle" class="b" letter-spacing="0.33">1.13</text>
<text x="620.05" y="269.60" font-size="9.3" text-anchor="middle" class="r" letter-spacing="0.33">1.690</text>
<text x="668.33" y="269.60" font-size="9.3" text-anchor="middle" class="b" letter-spacing="0.33">0.094</text>
<text x="717.17" y="269.60" font-size="9.3" text-anchor="middle" class="r" letter-spacing="0.33">0.293</text>
<text x="765.44" y="269.60" font-size="9.3" text-anchor="middle" class="r" letter-spacing="0.33">0.345</text>
<text x="63.67" y="281.30" font-size="9.3" letter-spacing="0.33">3/4</text>
<text x="109.00" y="281.30" font-size="9.3" text-anchor="middle" letter-spacing="0.33">5L</text>
<text x="138.11" y="281.30" font-size="9.3" text-anchor="middle" letter-spacing="0.33">XS</text>
<text x="174.39" y="281.30" font-size="9.3" text-anchor="middle" letter-spacing="0.33">80</text>
<text x="225.00" y="281.30" font-size="9.3" text-anchor="middle" class="r" letter-spacing="0.33">3.91</text>
<text x="423.61" y="281.30" font-size="9.3" text-anchor="middle" class="b" letter-spacing="0.33">0.154</text>
<text x="274.89" y="281.30" font-size="9.3" text-anchor="middle" class="r" letter-spacing="0.33">26.7</text>
<text x="474.28" y="281.30" font-size="9.3" text-anchor="middle" class="b" letter-spacing="0.33">1.05</text>
<text x="322.39" y="281.30" font-size="9.3" text-anchor="middle" class="r" letter-spacing="0.33">18.88</text>
<text x="521.83" y="281.30" font-size="9.3" text-anchor="middle" class="b" letter-spacing="0.33">0.742</text>
<text x="371.55" y="281.30" font-size="9.3" text-anchor="middle" class="r" letter-spacing="0.33">2.2</text>
<text x="570.72" y="281.30" font-size="9.3" text-anchor="middle" class="b" letter-spacing="0.33">1.47</text>
<text x="620.05" y="281.30" font-size="9.3" text-anchor="middle" class="r" letter-spacing="0.33">2.200</text>
<text x="668.33" y="281.30" font-size="9.3" text-anchor="middle" class="b" letter-spacing="0.33">0.123</text>
<text x="717.17" y="281.30" font-size="9.3" text-anchor="middle" class="r" letter-spacing="0.33">0.293</text>
<text x="765.44" y="281.30" font-size="9.3" text-anchor="middle" class="r" letter-spacing="0.33">0.280</text>
<text x="63.67" y="292.70" font-size="9.3" letter-spacing="0.33">3/4</text>
<text x="109.00" y="292.70" font-size="9.3" text-anchor="middle" letter-spacing="0.33">...</text>
<text x="138.11" y="292.70" font-size="9.3" text-anchor="middle" letter-spacing="0.33">...</text>
<text x="174.39" y="292.70" font-size="9.3" text-anchor="middle" letter-spacing="0.33">160</text>
<text x="225.00" y="292.70" font-size="9.3" text-anchor="middle" class="r" letter-spacing="0.33">5.56</text>
<text x="423.61" y="292.70" font-size="9.3" text-anchor="middle" class="b" letter-spacing="0.33">0.219</text>
<text x="274.89" y="292.70" font-size="9.3" text-anchor="middle" class="r" letter-spacing="0.33">26.7</text>
<text x="474.28" y="292.70" font-size="9.3" text-anchor="middle" class="b" letter-spacing="0.33">1.05</text>
<text x="322.39" y="292.70" font-size="9.3" text-anchor="middle" class="r" letter-spacing="0.33">15.58</text>
<text x="521.83" y="292.70" font-size="9.3" text-anchor="middle" class="b" letter-spacing="0.33">0.612</text>
<text x="371.55" y="292.70" font-size="9.3" text-anchor="middle" class="r" letter-spacing="0.33">2.9</text>
<text x="570.72" y="292.70" font-size="9.3" text-anchor="middle" class="b" letter-spacing="0.33">1.94</text>
<text x="620.05" y="292.70" font-size="9.3" text-anchor="middle" class="r" letter-spacing="0.33">2.900</text>
<text x="668.33" y="292.70" font-size="9.3" text-anchor="middle" class="b" letter-spacing="0.33">0.162</text>
<text x="717.17" y="292.70" font-size="9.3" text-anchor="middle" class="r" letter-spacing="0.33">0.293</text>
<text x="765.44" y="292.70" font-size="9.3" text-anchor="middle" class="r" letter-spacing="0.33">0.191</text>
<text x="63.67" y="305.10" font-size="9.3" letter-spacing="0.33">3/4</text>
<text x="109.00" y="305.10" font-size="9.3" text-anchor="middle" letter-spacing="0.33">5L</text>
<text x="138.11" y="305.10" font-size="9.3" text-anchor="middle" letter-spacing="0.33">XXS</text>
<text x="174.39" y="305.10" font-size="9.3" text-anchor="middle" letter-spacing="0.33">...</text>
<text x="225.00" y="305.10" font-size="9.3" text-anchor="middle" class="r" letter-spacing="0.33">7.82</text>
<text x="423.61" y="305.10" font-size="9.3" text-anchor="middle" class="b" letter-spacing="0.33">0.308</text>
<text x="274.89" y="305.10" font-size="9.3" text-anchor="middle" class="r" letter-spacing="0.33">26.7</text>
<text x="474.28" y="305.10" font-size="9.3" text-anchor="middle" class="b" letter-spacing="0.33">1.05</text>
<text x="322.39" y="305.10" font-size="9.3" text-anchor="middle" class="r" letter-spacing="0.33">11.06</text>
<text x="521.83" y="305.10" font-size="9.3" text-anchor="middle" class="b" letter-spacing="0.33">0.434</text>
<text x="371.55" y="305.10" font-size="9.3" text-anchor="middle" class="r" letter-spacing="0.33">3.64</text>
<text x="570.72" y="305.10" font-size="9.3" text-anchor="middle" class="b" letter-spacing="0.33">2.44</text>
<text x="620.05" y="305.10" font-size="9.3" text-anchor="middle" class="r" letter-spacing="0.33">3.640</text>
<text x="668.33" y="305.10" font-size="9.3" text-anchor="middle" class="b" letter-spacing="0.33">0.203</text>
<text x="717.17" y="305.10" font-size="9.3" text-anchor="middle" class="r" letter-spacing="0.33">0.293</text>
<text x="765.44" y="305.10" font-size="9.3" text-anchor="middle" class="r" letter-spacing="0.33">0.096</text>
<text x="61.11" y="316.60" font-size="9.3" letter-spacing="0.33">1</text>
<text x="109.00" y="316.60" font-size="9.3" text-anchor="middle" letter-spacing="0.33">5L</text>
<text x="138.11" y="316.60" font-size="9.3" text-anchor="middle" letter-spacing="0.33">STD</text>
<text x="174.39" y="316.60" font-size="9.3" text-anchor="middle" letter-spacing="0.33">40</text>
<text x="225.00" y="316.60" font-size="9.3" text-anchor="middle" class="r" letter-spacing="0.33">3.38</text>
<text x="423.61" y="316.60" font-size="9.3" text-anchor="middle" class="b" letter-spacing="0.33">0.133</text>
<text x="274.89" y="316.60" font-size="9.3" text-anchor="middle" class="r" letter-spacing="0.33">33.4</text>
<text x="474.28" y="316.60" font-size="9.3" text-anchor="middle" class="b" letter-spacing="0.33">1.315</text>
<text x="322.39" y="316.60" font-size="9.3" text-anchor="middle" class="r" letter-spacing="0.33">26.64</text>
<text x="521.83" y="316.60" font-size="9.3" text-anchor="middle" class="b" letter-spacing="0.33">1.049</text>
<text x="371.55" y="316.60" font-size="9.3" text-anchor="middle" class="r" letter-spacing="0.33">2.5</text>
<text x="570.72" y="316.60" font-size="9.3" text-anchor="middle" class="b" letter-spacing="0.33">1.68</text>
<text x="620.05" y="316.60" font-size="9.3" text-anchor="middle" class="r" letter-spacing="0.33">2.500</text>
<text x="668.33" y="316.60" font-size="9.3" text-anchor="middle" class="b" letter-spacing="0.33">0.140</text>
<text x="717.17" y="316.60" font-size="9.3" text-anchor="middle" class="r" letter-spacing="0.33">0.336</text>
<text x="765.44" y="316.60" font-size="9.3" text-anchor="middle" class="r" letter-spacing="0.33">0.557</text>
<text x="61.11" y="328.40" font-size="9.3" letter-spacing="0.33">1</text>
<text x="109.00" y="328.40" font-size="9.3" text-anchor="middle" letter-spacing="0.33">5L</text>
<text x="138.11" y="328.40" font-size="9.3" text-anchor="middle" letter-spacing="0.33">XS</text>
<text x="174.39" y="328.40" font-size="9.3" text-anchor="middle" letter-spacing="0.33">80</text>
<text x="225.00" y="328.40" font-size="9.3" text-anchor="middle" class="r" letter-spacing="0.33">4.55</text>
<text x="423.61" y="328.40" font-size="9.3" text-anchor="middle" class="b" letter-spacing="0.33">0.179</text>
<text x="274.89" y="328.40" font-size="9.3" text-anchor="middle" class="r" letter-spacing="0.33">33.4</text>
<text x="474.28" y="328.40" font-size="9.3" text-anchor="middle" class="b" letter-spacing="0.33">1.315</text>
<text x="322.39" y="328.40" font-size="9.3" text-anchor="middle" class="r" letter-spacing="0.33">24.3</text>
<text x="521.83" y="328.40" font-size="9.3" text-anchor="middle" class="b" letter-spacing="0.33">0.957</text>
<text x="371.55" y="328.40" font-size="9.3" text-anchor="middle" class="r" letter-spacing="0.33">3.24</text>
<text x="570.72" y="328.40" font-size="9.3" text-anchor="middle" class="b" letter-spacing="0.33">2.17</text>
<text x="620.05" y="328.40" font-size="9.3" text-anchor="middle" class="r" letter-spacing="0.33">3.240</text>
<text x="668.33" y="328.40" font-size="9.3" text-anchor="middle" class="b" letter-spacing="0.33">0.181</text>
<text x="717.17" y="328.40" font-size="9.3" text-anchor="middle" class="r" letter-spacing="0.33">0.336</text>
<text x="765.44" y="328.40" font-size="9.3" text-anchor="middle" class="r" letter-spacing="0.33">0.464</text>
<text x="61.11" y="340.20" font-size="9.3" letter-spacing="0.33">1</text>
<text x="109.00" y="340.20" font-size="9.3" text-anchor="middle" letter-spacing="0.33">...</text>
<text x="138.11" y="340.20" font-size="9.3" text-anchor="middle" letter-spacing="0.33">...</text>
<text x="174.39" y="340.20" font-size="9.3" text-anchor="middle" letter-spacing="0.33">160</text>
<text x="225.00" y="340.20" font-size="9.3" text-anchor="middle" class="r" letter-spacing="0.33">6.35</text>
<text x="423.61" y="340.20" font-size="9.3" text-anchor="middle" class="b" letter-spacing="0.33">0.25</text>
<text x="274.89" y="340.20" font-size="9.3" text-anchor="middle" class="r" letter-spacing="0.33">33.4</text>
<text x="474.28" y="340.20" font-size="9.3" text-anchor="middle" class="b" letter-spacing="0.33">1.315</text>
<text x="322.39" y="340.20" font-size="9.3" text-anchor="middle" class="r" letter-spacing="0.33">20.7</text>
<text x="521.83" y="340.20" font-size="9.3" text-anchor="middle" class="b" letter-spacing="0.33">0.815</text>
<text x="371.55" y="340.20" font-size="9.3" text-anchor="middle" class="r" letter-spacing="0.33">4.24</text>
<text x="570.72" y="340.20" font-size="9.3" text-anchor="middle" class="b" letter-spacing="0.33">2.84</text>
<text x="620.05" y="340.20" font-size="9.3" text-anchor="middle" class="r" letter-spacing="0.33">4.240</text>
<text x="668.33" y="340.20" font-size="9.3" text-anchor="middle" class="b" letter-spacing="0.33">0.237</text>
<text x="717.17" y="340.20" font-size="9.3" text-anchor="middle" class="r" letter-spacing="0.33">0.336</text>
<text x="765.44" y="340.20" font-size="9.3" text-anchor="middle" class="r" letter-spacing="0.33">0.337</text>
<text x="61.11" y="352.10" font-size="9.3" letter-spacing="0.33">1</text>
<text x="109.00" y="352.10" font-size="9.3" text-anchor="middle" letter-spacing="0.33">5L</text>
<text x="138.11" y="352.10" font-size="9.3" text-anchor="middle" letter-spacing="0.33">XXS</text>
<text x="174.39" y="352.10" font-size="9.3" text-anchor="middle" letter-spacing="0.33">...</text>
<text x="225.00" y="352.10" font-size="9.3" text-anchor="middle" class="r" letter-spacing="0.33">9.09</text>
<text x="423.61" y="352.10" font-size="9.3" text-anchor="middle" class="b" letter-spacing="0.33">0.358</text>
<text x="274.89" y="352.10" font-size="9.3" text-anchor="middle" class="r" letter-spacing="0.33">33.4</text>
<text x="474.28" y="352.10" font-size="9.3" text-anchor="middle" class="b" letter-spacing="0.33">1.315</text>
<text x="322.39" y="352.10" font-size="9.3" text-anchor="middle" class="r" letter-spacing="0.33">15.22</text>
<text x="521.83" y="352.10" font-size="9.3" text-anchor="middle" class="b" letter-spacing="0.33">0.599</text>
<text x="371.55" y="352.10" font-size="9.3" text-anchor="middle" class="r" letter-spacing="0.33">5.45</text>
<text x="570.72" y="352.10" font-size="9.3" text-anchor="middle" class="b" letter-spacing="0.33">3.66</text>
<text x="620.05" y="352.10" font-size="9.3" text-anchor="middle" class="r" letter-spacing="0.33">5.450</text>
<text x="668.33" y="352.10" font-size="9.3" text-anchor="middle" class="b" letter-spacing="0.33">0.305</text>
<text x="717.17" y="352.10" font-size="9.3" text-anchor="middle" class="r" letter-spacing="0.33">0.336</text>
<text x="765.44" y="352.10" font-size="9.3" text-anchor="middle" class="r" letter-spacing="0.33">0.182</text>
<text x="58.44" y="364.00" font-size="9.3" letter-spacing="0.33">1 1/4</text>
<text x="109.00" y="364.00" font-size="9.3" text-anchor="middle" letter-spacing="0.33">5L</text>
<text x="138.11" y="364.00" font-size="9.3" text-anchor="middle" letter-spacing="0.33">STD</text>
<text x="174.39" y="364.00" font-size="9.3" text-anchor="middle" letter-spacing="0.33">40</text>
<text x="225.00" y="364.00" font-size="9.3" text-anchor="middle" class="r" letter-spacing="0.33">3.56</text>
<text x="423.61" y="364.00" font-size="9.3" text-anchor="middle" class="b" letter-spacing="0.33">0.14</text>
<text x="274.89" y="364.00" font-size="9.3" text-anchor="middle" class="r" letter-spacing="0.33">42.2</text>
<text x="474.28" y="364.00" font-size="9.3" text-anchor="middle" class="b" letter-spacing="0.33">1.66</text>
<text x="322.39" y="364.00" font-size="9.3" text-anchor="middle" class="r" letter-spacing="0.33">35.08</text>
<text x="521.83" y="364.00" font-size="9.3" text-anchor="middle" class="b" letter-spacing="0.33">1.38</text>
<text x="371.55" y="364.00" font-size="9.3" text-anchor="middle" class="r" letter-spacing="0.33">3.39</text>
<text x="570.72" y="364.00" font-size="9.3" text-anchor="middle" class="b" letter-spacing="0.33">2.27</text>
<text x="620.05" y="364.00" font-size="9.3" text-anchor="middle" class="r" letter-spacing="0.33">3.390</text>
<text x="668.33" y="364.00" font-size="9.3" text-anchor="middle" class="b" letter-spacing="0.33">0.189</text>
<text x="717.17" y="364.00" font-size="9.3" text-anchor="middle" class="r" letter-spacing="0.33">0.391</text>
<text x="765.44" y="364.00" font-size="9.3" text-anchor="middle" class="r" letter-spacing="0.33">0.967</text>
<text x="58.44" y="375.50" font-size="9.3" letter-spacing="0.33">1 1/4</text>
<text x="109.00" y="375.50" font-size="9.3" text-anchor="middle" letter-spacing="0.33">5L</text>
<text x="138.11" y="375.50" font-size="9.3" text-anchor="middle" letter-spacing="0.33">XS</text>
<text x="174.39" y="375.50" font-size="9.3" text-anchor="middle" letter-spacing="0.33">80</text>
<text x="225.00" y="375.50" font-size="9.3" text-anchor="middle" class="r" letter-spacing="0.33">4.85</text>
<text x="423.61" y="375.50" font-size="9.3" text-anchor="middle" class="b" letter-spacing="0.33">0.191</text>
<text x="274.89" y="375.50" font-size="9.3" text-anchor="middle" class="r" letter-spacing="0.33">42.2</text>
<text x="474.28" y="375.50" font-size="9.3" text-anchor="middle" class="b" letter-spacing="0.33">1.66</text>
<text x="322.39" y="375.50" font-size="9.3" text-anchor="middle" class="r" letter-spacing="0.33">32.5</text>
<text x="521.83" y="375.50" font-size="9.3" text-anchor="middle" class="b" letter-spacing="0.33">1.278</text>
<text x="371.55" y="375.50" font-size="9.3" text-anchor="middle" class="r" letter-spacing="0.33">4.47</text>
<text x="570.72" y="375.50" font-size="9.3" text-anchor="middle" class="b" letter-spacing="0.33">3</text>
<text x="620.05" y="375.50" font-size="9.3" text-anchor="middle" class="r" letter-spacing="0.33">4.470</text>
<text x="668.33" y="375.50" font-size="9.3" text-anchor="middle" class="b" letter-spacing="0.33">0.250</text>
<text x="717.17" y="375.50" font-size="9.3" text-anchor="middle" class="r" letter-spacing="0.33">0.391</text>
<text x="765.44" y="375.50" font-size="9.3" text-anchor="middle" class="r" letter-spacing="0.33">0.830</text>
<text x="58.44" y="387.40" font-size="9.3" letter-spacing="0.33">1 1/4</text>
<text x="109.00" y="387.40" font-size="9.3" text-anchor="middle" letter-spacing="0.33">...</text>
<text x="138.11" y="387.40" font-size="9.3" text-anchor="middle" letter-spacing="0.33">...</text>
<text x="174.39" y="387.40" font-size="9.3" text-anchor="middle" letter-spacing="0.33">160</text>
<text x="225.00" y="387.40" font-size="9.3" text-anchor="middle" class="r" letter-spacing="0.33">6.35</text>
<text x="423.61" y="387.40" font-size="9.3" text-anchor="middle" class="b" letter-spacing="0.33">0.25</text>
<text x="274.89" y="387.40" font-size="9.3" text-anchor="middle" class="r" letter-spacing="0.33">42.2</text>
<text x="474.28" y="387.40" font-size="9.3" text-anchor="middle" class="b" letter-spacing="0.33">1.66</text>
<text x="322.39" y="387.40" font-size="9.3" text-anchor="middle" class="r" letter-spacing="0.33">29.5</text>
<text x="521.83" y="387.40" font-size="9.3" text-anchor="middle" class="b" letter-spacing="0.33">1.16</text>
<text x="371.55" y="387.40" font-size="9.3" text-anchor="middle" class="r" letter-spacing="0.33">5.61</text>
<text x="570.72" y="387.40" font-size="9.3" text-anchor="middle" class="b" letter-spacing="0.33">3.76</text>
<text x="620.05" y="387.40" font-size="9.3" text-anchor="middle" class="r" letter-spacing="0.33">5.610</text>
<text x="668.33" y="387.40" font-size="9.3" text-anchor="middle" class="b" letter-spacing="0.33">0.313</text>
<text x="717.17" y="387.40" font-size="9.3" text-anchor="middle" class="r" letter-spacing="0.33">0.391</text>
<text x="765.44" y="387.40" font-size="9.3" text-anchor="middle" class="r" letter-spacing="0.33">0.683</text>
<text x="58.44" y="399.40" font-size="9.3" letter-spacing="0.33">1 1/4</text>
<text x="109.00" y="399.40" font-size="9.3" text-anchor="middle" letter-spacing="0.33">5L</text>
<text x="138.11" y="399.40" font-size="9.3" text-anchor="middle" letter-spacing="0.33">XXS</text>
<text x="174.39" y="399.40" font-size="9.3" text-anchor="middle" letter-spacing="0.33">...</text>
<text x="225.00" y="399.40" font-size="9.3" text-anchor="middle" class="r" letter-spacing="0.33">9.7</text>
<text x="423.61" y="399.40" font-size="9.3" text-anchor="middle" class="b" letter-spacing="0.33">0.352</text>
<text x="274.89" y="399.40" font-size="9.3" text-anchor="middle" class="r" letter-spacing="0.33">42.2</text>
<text x="474.28" y="399.40" font-size="9.3" text-anchor="middle" class="b" letter-spacing="0.33">1.66</text>
<text x="322.39" y="399.40" font-size="9.3" text-anchor="middle" class="r" letter-spacing="0.33">22.8</text>
<text x="521.83" y="399.40" font-size="9.3" text-anchor="middle" class="b" letter-spacing="0.33">0.956</text>
<text x="371.55" y="399.40" font-size="9.3" text-anchor="middle" class="r" letter-spacing="0.33">7.77</text>
<text x="570.72" y="399.40" font-size="9.3" text-anchor="middle" class="b" letter-spacing="0.33">5.21</text>
<text x="620.05" y="399.40" font-size="9.3" text-anchor="middle" class="r" letter-spacing="0.33">7.770</text>
<text x="668.33" y="399.40" font-size="9.3" text-anchor="middle" class="b" letter-spacing="0.33">0.434</text>
<text x="717.17" y="399.40" font-size="9.3" text-anchor="middle" class="r" letter-spacing="0.33">0.391</text>
<text x="765.44" y="399.40" font-size="9.3" text-anchor="middle" class="r" letter-spacing="0.33">0.408</text>
<text x="58.44" y="411.10" font-size="9.3" letter-spacing="0.33">1 1/2</text>
<text x="109.00" y="411.10" font-size="9.3" text-anchor="middle" letter-spacing="0.33">5L</text>
<text x="138.11" y="411.10" font-size="9.3" text-anchor="middle" letter-spacing="0.33">STD</text>
<text x="174.39" y="411.10" font-size="9.3" text-anchor="middle" letter-spacing="0.33">40</text>
<text x="225.00" y="411.10" font-size="9.3" text-anchor="middle" class="r" letter-spacing="0.33">3.68</text>
<text x="423.61" y="411.10" font-size="9.3" text-anchor="middle" class="b" letter-spacing="0.33">0.145</text>
<text x="274.89" y="411.10" font-size="9.3" text-anchor="middle" class="r" letter-spacing="0.33">48.3</text>
<text x="474.28" y="411.10" font-size="9.3" text-anchor="middle" class="b" letter-spacing="0.33">1.9</text>
<text x="322.39" y="411.10" font-size="9.3" text-anchor="middle" class="r" letter-spacing="0.33">40.94</text>
<text x="521.83" y="411.10" font-size="9.3" text-anchor="middle" class="b" letter-spacing="0.33">1.61</text>
<text x="371.55" y="411.10" font-size="9.3" text-anchor="middle" class="r" letter-spacing="0.33">4.05</text>
<text x="570.72" y="411.10" font-size="9.3" text-anchor="middle" class="b" letter-spacing="0.33">2.72</text>
<text x="620.05" y="411.10" font-size="9.3" text-anchor="middle" class="r" letter-spacing="0.33">4.050</text>
<text x="668.33" y="411.10" font-size="9.3" text-anchor="middle" class="b" letter-spacing="0.33">0.227</text>
<text x="717.17" y="411.10" font-size="9.3" text-anchor="middle" class="r" letter-spacing="0.33">0.429</text>
<text x="765.44" y="411.10" font-size="9.3" text-anchor="middle" class="r" letter-spacing="0.33">1.316</text>
<text x="58.44" y="422.80" font-size="9.3" letter-spacing="0.33">1 1/2</text>
<text x="109.00" y="422.80" font-size="9.3" text-anchor="middle" letter-spacing="0.33">5L</text>
<text x="138.11" y="422.80" font-size="9.3" text-anchor="middle" letter-spacing="0.33">XS</text>
<text x="174.39" y="422.80" font-size="9.3" text-anchor="middle" letter-spacing="0.33">80</text>
<text x="225.00" y="422.80" font-size="9.3" text-anchor="middle" class="r" letter-spacing="0.33">5.08</text>
<text x="423.61" y="422.80" font-size="9.3" text-anchor="middle" class="b" letter-spacing="0.33">0.2</text>
<text x="274.89" y="422.80" font-size="9.3" text-anchor="middle" class="r" letter-spacing="0.33">48.3</text>
<text x="474.28" y="422.80" font-size="9.3" text-anchor="middle" class="b" letter-spacing="0.33">1.99</text>
<text x="322.39" y="422.80" font-size="9.3" text-anchor="middle" class="r" letter-spacing="0.33">38.14</text>
<text x="521.83" y="422.80" font-size="9.3" text-anchor="middle" class="b" letter-spacing="0.33">1.59</text>
<text x="371.55" y="422.80" font-size="9.3" text-anchor="middle" class="r" letter-spacing="0.33">5.41</text>
<text x="570.72" y="422.80" font-size="9.3" text-anchor="middle" class="b" letter-spacing="0.33">3.63</text>
<text x="620.05" y="422.80" font-size="9.3" text-anchor="middle" class="r" letter-spacing="0.33">5.410</text>
<text x="668.33" y="422.80" font-size="9.3" text-anchor="middle" class="b" letter-spacing="0.33">0.303</text>
<text x="717.17" y="422.80" font-size="9.3" text-anchor="middle" class="r" letter-spacing="0.33">0.429</text>
<text x="765.44" y="422.80" font-size="9.3" text-anchor="middle" class="r" letter-spacing="0.33">1.142</text>
<text x="58.44" y="434.20" font-size="9.3" letter-spacing="0.33">1 1/2</text>
<text x="109.00" y="434.20" font-size="9.3" text-anchor="middle" letter-spacing="0.33">...</text>
<text x="138.11" y="434.20" font-size="9.3" text-anchor="middle" letter-spacing="0.33">...</text>
<text x="174.39" y="434.20" font-size="9.3" text-anchor="middle" letter-spacing="0.33">160</text>
<text x="225.00" y="434.20" font-size="9.3" text-anchor="middle" class="r" letter-spacing="0.33">7.14</text>
<text x="423.61" y="434.20" font-size="9.3" text-anchor="middle" class="b" letter-spacing="0.33">0.281</text>
<text x="274.89" y="434.20" font-size="9.3" text-anchor="middle" class="r" letter-spacing="0.33">48.3</text>
<text x="474.28" y="434.20" font-size="9.3" text-anchor="middle" class="b" letter-spacing="0.33">1.99</text>
<text x="322.39" y="434.20" font-size="9.3" text-anchor="middle" class="r" letter-spacing="0.33">34.02</text>
<text x="521.83" y="434.20" font-size="9.3" text-anchor="middle" class="b" letter-spacing="0.33">1.428</text>
<text x="371.55" y="434.20" font-size="9.3" text-anchor="middle" class="r" letter-spacing="0.33">7.25</text>
<text x="570.72" y="434.20" font-size="9.3" text-anchor="middle" class="b" letter-spacing="0.33">4.86</text>
<text x="620.05" y="434.20" font-size="9.3" text-anchor="middle" class="r" letter-spacing="0.33">7.250</text>
<text x="668.33" y="434.20" font-size="9.3" text-anchor="middle" class="b" letter-spacing="0.33">0.405</text>
<text x="717.17" y="434.20" font-size="9.3" text-anchor="middle" class="r" letter-spacing="0.33">0.429</text>
<text x="765.44" y="434.20" font-size="9.3" text-anchor="middle" class="r" letter-spacing="0.33">0.909</text>
<text x="58.44" y="446.90" font-size="9.3" letter-spacing="0.33">1 1/2</text>
<text x="109.00" y="446.90" font-size="9.3" text-anchor="middle" letter-spacing="0.33">5L</text>
<text x="138.11" y="446.90" font-size="9.3" text-anchor="middle" letter-spacing="0.33">XXS</text>
<text x="174.39" y="446.90" font-size="9.3" text-anchor="middle" letter-spacing="0.33">...</text>
<text x="225.00" y="446.90" font-size="9.3" text-anchor="middle" class="r" letter-spacing="0.33">10.15</text>
<text x="423.61" y="446.90" font-size="9.3" text-anchor="middle" class="b" letter-spacing="0.33">0.4</text>
<text x="274.89" y="446.90" font-size="9.3" text-anchor="middle" class="r" letter-spacing="0.33">48.3</text>
<text x="474.28" y="446.90" font-size="9.3" text-anchor="middle" class="b" letter-spacing="0.33">1.99</text>
<text x="322.39" y="446.90" font-size="9.3" text-anchor="middle" class="r" letter-spacing="0.33">28</text>
<text x="521.83" y="446.90" font-size="9.3" text-anchor="middle" class="b" letter-spacing="0.33">1.19</text>
<text x="371.55" y="446.90" font-size="9.3" text-anchor="middle" class="r" letter-spacing="0.33">9.56</text>
<text x="570.72" y="446.90" font-size="9.3" text-anchor="middle" class="b" letter-spacing="0.33">6.41</text>
<text x="620.05" y="446.90" font-size="9.3" text-anchor="middle" class="r" letter-spacing="0.33">9.560</text>
<text x="668.33" y="446.90" font-size="9.3" text-anchor="middle" class="b" letter-spacing="0.33">0.534</text>
<text x="717.17" y="446.90" font-size="9.3" text-anchor="middle" class="r" letter-spacing="0.33">0.429</text>
<text x="765.44" y="446.90" font-size="9.3" text-anchor="middle" class="r" letter-spacing="0.33">0.616</text>
<text x="61.11" y="458.10" font-size="9.3" letter-spacing="0.33">2</text>
<text x="109.00" y="458.10" font-size="9.3" text-anchor="middle" letter-spacing="0.33">5L</text>
<text x="138.11" y="458.10" font-size="9.3" text-anchor="middle" letter-spacing="0.33">...</text>
<text x="174.39" y="458.10" font-size="9.3" text-anchor="middle" letter-spacing="0.33">...</text>
<text x="225.00" y="458.10" font-size="9.3" text-anchor="middle" class="r" letter-spacing="0.33">2.11</text>
<text x="423.61" y="458.10" font-size="9.3" text-anchor="middle" class="b" letter-spacing="0.33">0.083</text>
<text x="274.89" y="458.10" font-size="9.3" text-anchor="middle" class="r" letter-spacing="0.33">60.3</text>
<text x="474.28" y="458.10" font-size="9.3" text-anchor="middle" class="b" letter-spacing="0.33">2.375</text>
<text x="322.39" y="458.10" font-size="9.3" text-anchor="middle" class="r" letter-spacing="0.33">56.08</text>
<text x="521.83" y="458.10" font-size="9.3" text-anchor="middle" class="b" letter-spacing="0.33">2.209</text>
<text x="371.55" y="458.10" font-size="9.3" text-anchor="middle" class="r" letter-spacing="0.33">3.03</text>
<text x="570.72" y="458.10" font-size="9.3" text-anchor="middle" class="b" letter-spacing="0.33">2.03</text>
<text x="620.05" y="458.10" font-size="9.3" text-anchor="middle" class="r" letter-spacing="0.33">3.030</text>
<text x="668.33" y="458.10" font-size="9.3" text-anchor="middle" class="b" letter-spacing="0.33">0.169</text>
<text x="717.17" y="458.10" font-size="9.3" text-anchor="middle" class="r" letter-spacing="0.33">0.505</text>
<text x="765.44" y="458.10" font-size="9.3" text-anchor="middle" class="r" letter-spacing="0.33">2.470</text>
<text x="61.11" y="469.80" font-size="9.3" letter-spacing="0.33">2</text>
<text x="109.00" y="469.80" font-size="9.3" text-anchor="middle" letter-spacing="0.33">5L</text>
<text x="138.11" y="469.80" font-size="9.3" text-anchor="middle" letter-spacing="0.33">...</text>
<text x="174.39" y="469.80" font-size="9.3" text-anchor="middle" letter-spacing="0.33">...</text>
<text x="225.00" y="469.80" font-size="9.3" text-anchor="middle" class="r" letter-spacing="0.33">2.77</text>
<text x="423.61" y="469.80" font-size="9.3" text-anchor="middle" class="b" letter-spacing="0.33">0.109</text>
<text x="274.89" y="469.80" font-size="9.3" text-anchor="middle" class="r" letter-spacing="0.33">60.3</text>
<text x="474.28" y="469.80" font-size="9.3" text-anchor="middle" class="b" letter-spacing="0.33">2.375</text>
<text x="322.39" y="469.80" font-size="9.3" text-anchor="middle" class="r" letter-spacing="0.33">54.76</text>
<text x="521.83" y="469.80" font-size="9.3" text-anchor="middle" class="b" letter-spacing="0.33">2.157</text>
<text x="371.55" y="469.80" font-size="9.3" text-anchor="middle" class="r" letter-spacing="0.33">3.93</text>
<text x="570.72" y="469.80" font-size="9.3" text-anchor="middle" class="b" letter-spacing="0.33">2.64</text>
<text x="620.05" y="469.80" font-size="9.3" text-anchor="middle" class="r" letter-spacing="0.33">3.930</text>
<text x="668.33" y="469.80" font-size="9.3" text-anchor="middle" class="b" letter-spacing="0.33">0.220</text>
<text x="717.17" y="469.80" font-size="9.3" text-anchor="middle" class="r" letter-spacing="0.33">0.505</text>
<text x="765.44" y="469.80" font-size="9.3" text-anchor="middle" class="r" letter-spacing="0.33">2.355</text>
<text x="61.11" y="481.40" font-size="9.3" letter-spacing="0.33">2</text>
<text x="109.00" y="481.40" font-size="9.3" text-anchor="middle" letter-spacing="0.33">5L</text>
<text x="138.11" y="481.40" font-size="9.3" text-anchor="middle" letter-spacing="0.33">...</text>
<text x="174.39" y="481.40" font-size="9.3" text-anchor="middle" letter-spacing="0.33">...</text>
<text x="225.00" y="481.40" font-size="9.3" text-anchor="middle" class="r" letter-spacing="0.33">3.18</text>
<text x="423.61" y="481.40" font-size="9.3" text-anchor="middle" class="b" letter-spacing="0.33">0.125</text>
<text x="274.89" y="481.40" font-size="9.3" text-anchor="middle" class="r" letter-spacing="0.33">60.3</text>
<text x="474.28" y="481.40" font-size="9.3" text-anchor="middle" class="b" letter-spacing="0.33">2.375</text>
<text x="322.39" y="481.40" font-size="9.3" text-anchor="middle" class="r" letter-spacing="0.33">53.94</text>
<text x="521.83" y="481.40" font-size="9.3" text-anchor="middle" class="b" letter-spacing="0.33">2.125</text>
<text x="371.55" y="481.40" font-size="9.3" text-anchor="middle" class="r" letter-spacing="0.33">4.48</text>
<text x="570.72" y="481.40" font-size="9.3" text-anchor="middle" class="b" letter-spacing="0.33">3</text>
<text x="620.05" y="481.40" font-size="9.3" text-anchor="middle" class="r" letter-spacing="0.33">4.480</text>
<text x="668.33" y="481.40" font-size="9.3" text-anchor="middle" class="b" letter-spacing="0.33">0.250</text>
<text x="717.17" y="481.40" font-size="9.3" text-anchor="middle" class="r" letter-spacing="0.33">0.505</text>
<text x="765.44" y="481.40" font-size="9.3" text-anchor="middle" class="r" letter-spacing="0.33">2.285</text>
<text x="61.11" y="493.20" font-size="9.3" letter-spacing="0.33">2</text>
<text x="109.00" y="493.20" font-size="9.3" text-anchor="middle" letter-spacing="0.33">5L</text>
<text x="138.11" y="493.20" font-size="9.3" text-anchor="middle" letter-spacing="0.33">...</text>
<text x="174.39" y="493.20" font-size="9.3" text-anchor="middle" letter-spacing="0.33">...</text>
<text x="225.00" y="493.20" font-size="9.3" text-anchor="middle" class="r" letter-spacing="0.33">3.58</text>
<text x="423.61" y="493.20" font-size="9.3" text-anchor="middle" class="b" letter-spacing="0.33">0.141</text>
<text x="274.89" y="493.20" font-size="9.3" text-anchor="middle" class="r" letter-spacing="0.33">60.3</text>
<text x="474.28" y="493.20" font-size="9.3" text-anchor="middle" class="b" letter-spacing="0.33">2.375</text>
<text x="322.39" y="493.20" font-size="9.3" text-anchor="middle" class="r" letter-spacing="0.33">53.14</text>
<text x="521.83" y="493.20" font-size="9.3" text-anchor="middle" class="b" letter-spacing="0.33">2.093</text>
<text x="371.55" y="493.20" font-size="9.3" text-anchor="middle" class="r" letter-spacing="0.33">5.01</text>
<text x="570.72" y="493.20" font-size="9.3" text-anchor="middle" class="b" letter-spacing="0.33">3.36</text>
<text x="620.05" y="493.20" font-size="9.3" text-anchor="middle" class="r" letter-spacing="0.33">5.010</text>
<text x="668.33" y="493.20" font-size="9.3" text-anchor="middle" class="b" letter-spacing="0.33">0.280</text>
<text x="717.17" y="493.20" font-size="9.3" text-anchor="middle" class="r" letter-spacing="0.33">0.505</text>
<text x="765.44" y="493.20" font-size="9.3" text-anchor="middle" class="r" letter-spacing="0.33">2.218</text>
<text x="61.11" y="504.70" font-size="9.3" letter-spacing="0.33">2</text>
<text x="109.00" y="504.70" font-size="9.3" text-anchor="middle" letter-spacing="0.33">5L</text>
<text x="138.11" y="504.70" font-size="9.3" text-anchor="middle" letter-spacing="0.33">STD</text>
<text x="174.39" y="504.70" font-size="9.3" text-anchor="middle" letter-spacing="0.33">40</text>
<text x="225.00" y="504.70" font-size="9.3" text-anchor="middle" class="r" letter-spacing="0.33">3.91</text>
<text x="423.61" y="504.70" font-size="9.3" text-anchor="middle" class="b" letter-spacing="0.33">0.154</text>
<text x="274.89" y="504.70" font-size="9.3" text-anchor="middle" class="r" letter-spacing="0.33">60.3</text>
<text x="474.28" y="504.70" font-size="9.3" text-anchor="middle" class="b" letter-spacing="0.33">2.375</text>
<text x="322.39" y="504.70" font-size="9.3" text-anchor="middle" class="r" letter-spacing="0.33">52.48</text>
<text x="521.83" y="504.70" font-size="9.3" text-anchor="middle" class="b" letter-spacing="0.33">2.067</text>
<text x="371.55" y="504.70" font-size="9.3" text-anchor="middle" class="r" letter-spacing="0.33">5.44</text>
<text x="570.72" y="504.70" font-size="9.3" text-anchor="middle" class="b" letter-spacing="0.33">3.65</text>
<text x="620.05" y="504.70" font-size="9.3" text-anchor="middle" class="r" letter-spacing="0.33">5.440</text>
<text x="668.33" y="504.70" font-size="9.3" text-anchor="middle" class="b" letter-spacing="0.33">0.304</text>
<text x="717.17" y="504.70" font-size="9.3" text-anchor="middle" class="r" letter-spacing="0.33">0.505</text>
<text x="765.44" y="504.70" font-size="9.3" text-anchor="middle" class="r" letter-spacing="0.33">2.163</text>
<text x="61.11" y="515.90" font-size="9.3" letter-spacing="0.33">2</text>
<text x="109.00" y="515.90" font-size="9.3" text-anchor="middle" letter-spacing="0.33">5L</text>
<text x="138.11" y="515.90" font-size="9.3" text-anchor="middle" letter-spacing="0.33">...</text>
<text x="174.39" y="515.90" font-size="9.3" text-anchor="middle" letter-spacing="0.33">...</text>
<text x="225.00" y="515.90" font-size="9.3" text-anchor="middle" class="r" letter-spacing="0.33">4.37</text>
<text x="423.61" y="515.90" font-size="9.3" text-anchor="middle" class="b" letter-spacing="0.33">0.172</text>
<text x="274.89" y="515.90" font-size="9.3" text-anchor="middle" class="r" letter-spacing="0.33">60.3</text>
<text x="474.28" y="515.90" font-size="9.3" text-anchor="middle" class="b" letter-spacing="0.33">2.375</text>
<text x="322.39" y="515.90" font-size="9.3" text-anchor="middle" class="r" letter-spacing="0.33">51.56</text>
<text x="521.83" y="515.90" font-size="9.3" text-anchor="middle" class="b" letter-spacing="0.33">2.031</text>
<text x="371.55" y="515.90" font-size="9.3" text-anchor="middle" class="r" letter-spacing="0.33">6.03</text>
<text x="570.72" y="515.90" font-size="9.3" text-anchor="middle" class="b" letter-spacing="0.33">4.05</text>
<text x="620.05" y="515.90" font-size="9.3" text-anchor="middle" class="r" letter-spacing="0.33">6.030</text>
<text x="668.33" y="515.90" font-size="9.3" text-anchor="middle" class="b" letter-spacing="0.33">0.338</text>
<text x="717.17" y="515.90" font-size="9.3" text-anchor="middle" class="r" letter-spacing="0.33">0.505</text>
<text x="765.44" y="515.90" font-size="9.3" text-anchor="middle" class="r" letter-spacing="0.33">2.088</text>
<text x="799.22" y="562.65" font-size="9.3" text-anchor="end" letter-spacing="0.33">2/44</text>
<text x="145.50" y="609.55" font-size="9.3" text-anchor="middle" letter-spacing="0.33">Identification</text>
<text x="146.28" y="622.05" font-size="9.3" text-anchor="middle" letter-spacing="0.33">Standard(STD)</text>
<text x="146.28" y="634.25" font-size="9.3" text-anchor="middle" letter-spacing="0.33">Extra-Strong (XS)</text>
<text x="70.39" y="645.55" font-size="9.3" text-anchor="middle" letter-spacing="0.33">Inch</text>
<text x="146.28" y="645.45" font-size="9.3" text-anchor="middle" letter-spacing="0.33">Extra-Strong (XXS)</text>
<text x="50.56" y="659.75" font-size="9.3" letter-spacing="0.33">Nominal</text>
<text x="50.56" y="669.85" font-size="9.3" letter-spacing="0.33">PIPE</text>
<text x="95.00" y="659.25" font-size="9.3" letter-spacing="0.33">Spec.</text>
<text x="95.00" y="668.95" font-size="9.3" letter-spacing="0.33">API</text>
<text x="175.16" y="658.85" font-size="9.3" text-anchor="middle" letter-spacing="0.33">Schedule</text>
<text x="174.05" y="668.95" font-size="9.3" text-anchor="middle" letter-spacing="0.33">No.</text>
<text x="50.56" y="682.45" font-size="9.3" letter-spacing="0.33">Size</text>
<text x="225.44" y="645.55" font-size="9.3" text-anchor="middle" class="r" letter-spacing="0.33">Wall</text>
<text x="225.44" y="659.85" font-size="9.3" text-anchor="middle" class="r" letter-spacing="0.33">Thickness</text>
<text x="223.78" y="681.95" font-size="9.3" text-anchor="middle" class="r" letter-spacing="0.33">mm</text>
<text x="424.05" y="645.55" font-size="9.3" text-anchor="middle" class="b" letter-spacing="0.33">Wall</text>
<text x="424.05" y="659.85" font-size="9.3" text-anchor="middle" class="b" letter-spacing="0.33">Thickness</text>
<text x="422.39" y="681.95" font-size="9.3" text-anchor="middle" class="b" letter-spacing="0.33">in.</text>
<text x="275.33" y="645.55" font-size="9.3" text-anchor="middle" class="r" letter-spacing="0.33">Outside</text>
<text x="275.33" y="659.85" font-size="9.3" text-anchor="middle" class="r" letter-spacing="0.33">Diameter</text>
<text x="273.67" y="681.95" font-size="9.3" text-anchor="middle" class="r" letter-spacing="0.33">mm</text>
<text x="474.72" y="645.55" font-size="9.3" text-anchor="middle" class="b" letter-spacing="0.33">Outside</text>
<text x="474.72" y="659.85" font-size="9.3" text-anchor="middle" class="b" letter-spacing="0.33">Diameter</text>
<text x="473.05" y="681.95" font-size="9.3" text-anchor="middle" class="b" letter-spacing="0.33">in.</text>
<text x="322.83" y="645.55" font-size="9.3" text-anchor="middle" class="r" letter-spacing="0.33">Inside</text>
<text x="322.83" y="659.85" font-size="9.3" text-anchor="middle" class="r" letter-spacing="0.33">Diameter</text>
<text x="321.16" y="681.95" font-size="9.3" text-anchor="middle" class="r" letter-spacing="0.33">mm</text>
<text x="522.28" y="645.55" font-size="9.3" text-anchor="middle" class="b" letter-spacing="0.33">Inside</text>
<text x="522.28" y="659.85" font-size="9.3" text-anchor="middle" class="b" letter-spacing="0.33">Diameter</text>
<text x="520.61" y="681.95" font-size="9.3" text-anchor="middle" class="b" letter-spacing="0.33">in.</text>
<text x="372.00" y="645.55" font-size="9.3" text-anchor="middle" class="r" letter-spacing="0.33">Plain End</text>
<text x="372.00" y="659.85" font-size="9.3" text-anchor="middle" class="r" letter-spacing="0.33">Mass</text>
<text x="370.33" y="681.95" font-size="9.3" text-anchor="middle" class="r" letter-spacing="0.33">kg/m</text>
<text x="571.17" y="645.55" font-size="9.3" text-anchor="middle" class="b" letter-spacing="0.33">Plain End</text>
<text x="571.17" y="659.85" font-size="9.3" text-anchor="middle" class="b" letter-spacing="0.33">Weight</text>
<text x="569.50" y="681.95" font-size="9.3" text-anchor="middle" class="b" letter-spacing="0.33">lb/ft</text>
<text x="619.83" y="681.95" font-size="9.3" text-anchor="middle" class="r" letter-spacing="0.33">kg</text>
<text x="668.05" y="681.95" font-size="9.3" text-anchor="middle" class="b" letter-spacing="0.33">lb</text>
<text x="788.48" y="597.15" font-size="9.3" text-anchor="end" letter-spacing="0.7">INSULATION</text>
<text x="697.33" y="608.55" font-size="9.3" class="r" letter-spacing="0.33">LATIME=</text>
<text x="765.72" y="608.55" font-size="9.3" text-anchor="middle" class="r" letter-spacing="0.33">20</text>
<text x="697.33" y="621.55" font-size="9.3" class="r" letter-spacing="0.33">DENSIT=</text>
<text x="765.72" y="621.55" font-size="9.3" text-anchor="middle" class="r" letter-spacing="0.33">100</text>
<text x="697.33" y="645.75" font-size="9.3" class="r" letter-spacing="0.33">DENSIT=</text>
<text x="765.72" y="645.75" font-size="9.3" text-anchor="middle" class="r" letter-spacing="0.33">1000</text>
<text x="717.16" y="659.65" font-size="9.3" text-anchor="middle" letter-spacing="0.33">INSUL.</text>
<text x="717.39" y="669.25" font-size="9.3" text-anchor="middle" letter-spacing="0.33">WEIGHT</text>
<text x="765.94" y="659.65" font-size="9.3" text-anchor="middle" letter-spacing="0.33">LIQUID.</text>
<text x="765.94" y="669.25" font-size="9.3" text-anchor="middle" letter-spacing="0.33">WEIGHT</text>
<text x="717.16" y="681.95" font-size="9.3" text-anchor="middle" class="r" letter-spacing="0.33">kg</text>
<text x="765.50" y="681.95" font-size="9.3" text-anchor="middle" class="r" letter-spacing="0.33">kg</text>
<text x="61.11" y="693.80" font-size="9.3" letter-spacing="0.33">2</text>
<text x="109.00" y="693.80" font-size="9.3" text-anchor="middle" letter-spacing="0.33">5L</text>
<text x="138.11" y="693.80" font-size="9.3" text-anchor="middle" letter-spacing="0.33">...</text>
<text x="174.39" y="693.80" font-size="9.3" text-anchor="middle" letter-spacing="0.33">...</text>
<text x="225.00" y="693.80" font-size="9.3" text-anchor="middle" class="r" letter-spacing="0.33">4.78</text>
<text x="423.61" y="693.80" font-size="9.3" text-anchor="middle" class="b" letter-spacing="0.33">0.188</text>
<text x="274.89" y="693.80" font-size="9.3" text-anchor="middle" class="r" letter-spacing="0.33">60.3</text>
<text x="474.28" y="693.80" font-size="9.3" text-anchor="middle" class="b" letter-spacing="0.33">2.375</text>
<text x="322.39" y="693.80" font-size="9.3" text-anchor="middle" class="r" letter-spacing="0.33">50.74</text>
<text x="521.83" y="693.80" font-size="9.3" text-anchor="middle" class="b" letter-spacing="0.33">1.999</text>
<text x="371.55" y="693.80" font-size="9.3" text-anchor="middle" class="r" letter-spacing="0.33">6.54</text>
<text x="570.72" y="693.80" font-size="9.3" text-anchor="middle" class="b" letter-spacing="0.33">4.39</text>
<text x="620.05" y="693.80" font-size="9.3" text-anchor="middle" class="r" letter-spacing="0.33">6.540</text>
<text x="668.33" y="693.80" font-size="9.3" text-anchor="middle" class="b" letter-spacing="0.33">0.366</text>
<text x="717.17" y="693.80" font-size="9.3" text-anchor="middle" class="r" letter-spacing="0.33">0.505</text>
<text x="765.44" y="693.80" font-size="9.3" text-anchor="middle" class="r" letter-spacing="0.33">2.022</text>
<text x="61.11" y="705.00" font-size="9.3" letter-spacing="0.33">2</text>
<text x="109.00" y="705.00" font-size="9.3" text-anchor="middle" letter-spacing="0.33">5L</text>
<text x="138.11" y="705.00" font-size="9.3" text-anchor="middle" letter-spacing="0.33">XS</text>
<text x="174.39" y="705.00" font-size="9.3" text-anchor="middle" letter-spacing="0.33">80</text>
<text x="225.00" y="705.00" font-size="9.3" text-anchor="middle" class="r" letter-spacing="0.33">5.54</text>
<text x="423.61" y="705.00" font-size="9.3" text-anchor="middle" class="b" letter-spacing="0.33">0.218</text>
<text x="274.89" y="705.00" font-size="9.3" text-anchor="middle" class="r" letter-spacing="0.33">60.3</text>
<text x="474.28" y="705.00" font-size="9.3" text-anchor="middle" class="b" letter-spacing="0.33">2.375</text>
<text x="322.39" y="705.00" font-size="9.3" text-anchor="middle" class="r" letter-spacing="0.33">49.22</text>
<text x="521.83" y="705.00" font-size="9.3" text-anchor="middle" class="b" letter-spacing="0.33">1.939</text>
<text x="371.55" y="705.00" font-size="9.3" text-anchor="middle" class="r" letter-spacing="0.33">7.48</text>
<text x="570.72" y="705.00" font-size="9.3" text-anchor="middle" class="b" letter-spacing="0.33">5.02</text>
<text x="620.05" y="705.00" font-size="9.3" text-anchor="middle" class="r" letter-spacing="0.33">7.480</text>
<text x="668.33" y="705.00" font-size="9.3" text-anchor="middle" class="b" letter-spacing="0.33">0.418</text>
<text x="717.17" y="705.00" font-size="9.3" text-anchor="middle" class="r" letter-spacing="0.33">0.505</text>
<text x="765.44" y="705.00" font-size="9.3" text-anchor="middle" class="r" letter-spacing="0.33">1.903</text>
<text x="61.11" y="716.90" font-size="9.3" letter-spacing="0.33">2</text>
<text x="109.00" y="716.90" font-size="9.3" text-anchor="middle" letter-spacing="0.33">5L</text>
<text x="138.11" y="716.90" font-size="9.3" text-anchor="middle" letter-spacing="0.33">...</text>
<text x="174.39" y="716.90" font-size="9.3" text-anchor="middle" letter-spacing="0.33">...</text>
<text x="225.00" y="716.90" font-size="9.3" text-anchor="middle" class="r" letter-spacing="0.33">6.35</text>
<text x="423.61" y="716.90" font-size="9.3" text-anchor="middle" class="b" letter-spacing="0.33">0.25</text>
<text x="274.89" y="716.90" font-size="9.3" text-anchor="middle" class="r" letter-spacing="0.33">60.3</text>
<text x="474.28" y="716.90" font-size="9.3" text-anchor="middle" class="b" letter-spacing="0.33">2.375</text>
<text x="322.39" y="716.90" font-size="9.3" text-anchor="middle" class="r" letter-spacing="0.33">47.6</text>
<text x="521.83" y="716.90" font-size="9.3" text-anchor="middle" class="b" letter-spacing="0.33">1.875</text>
<text x="371.55" y="716.90" font-size="9.3" text-anchor="middle" class="r" letter-spacing="0.33">8.45</text>
<text x="570.72" y="716.90" font-size="9.3" text-anchor="middle" class="b" letter-spacing="0.33">5.67</text>
<text x="620.05" y="716.90" font-size="9.3" text-anchor="middle" class="r" letter-spacing="0.33">8.450</text>
<text x="668.33" y="716.90" font-size="9.3" text-anchor="middle" class="b" letter-spacing="0.33">0.473</text>
<text x="717.17" y="716.90" font-size="9.3" text-anchor="middle" class="r" letter-spacing="0.33">0.505</text>
<text x="765.44" y="716.90" font-size="9.3" text-anchor="middle" class="r" letter-spacing="0.33">1.780</text>
<text x="61.11" y="728.20" font-size="9.3" letter-spacing="0.33">2</text>
<text x="109.00" y="728.20" font-size="9.3" text-anchor="middle" letter-spacing="0.33">5L</text>
<text x="138.11" y="728.20" font-size="9.3" text-anchor="middle" letter-spacing="0.33">...</text>
<text x="174.39" y="728.20" font-size="9.3" text-anchor="middle" letter-spacing="0.33">...</text>
<text x="225.00" y="728.20" font-size="9.3" text-anchor="middle" class="r" letter-spacing="0.33">7.14</text>
<text x="423.61" y="728.20" font-size="9.3" text-anchor="middle" class="b" letter-spacing="0.33">0.281</text>
<text x="274.89" y="728.20" font-size="9.3" text-anchor="middle" class="r" letter-spacing="0.33">60.3</text>
<text x="474.28" y="728.20" font-size="9.3" text-anchor="middle" class="b" letter-spacing="0.33">2.375</text>
<text x="322.39" y="728.20" font-size="9.3" text-anchor="middle" class="r" letter-spacing="0.33">46.02</text>
<text x="521.83" y="728.20" font-size="9.3" text-anchor="middle" class="b" letter-spacing="0.33">1.813</text>
<text x="371.55" y="728.20" font-size="9.3" text-anchor="middle" class="r" letter-spacing="0.33">9.36</text>
<text x="570.72" y="728.20" font-size="9.3" text-anchor="middle" class="b" letter-spacing="0.33">6.28</text>
<text x="620.05" y="728.20" font-size="9.3" text-anchor="middle" class="r" letter-spacing="0.33">9.360</text>
<text x="668.33" y="728.20" font-size="9.3" text-anchor="middle" class="b" letter-spacing="0.33">0.523</text>
<text x="717.17" y="728.20" font-size="9.3" text-anchor="middle" class="r" letter-spacing="0.33">0.505</text>
<text x="765.44" y="728.20" font-size="9.3" text-anchor="middle" class="r" letter-spacing="0.33">1.663</text>
<text x="61.11" y="740.20" font-size="9.3" letter-spacing="0.33">2</text>
<text x="109.00" y="740.20" font-size="9.3" text-anchor="middle" letter-spacing="0.33">...</text>
<text x="138.11" y="740.20" font-size="9.3" text-anchor="middle" letter-spacing="0.33">...</text>
<text x="174.39" y="740.20" font-size="9.3" text-anchor="middle" letter-spacing="0.33">160</text>
<text x="225.00" y="740.20" font-size="9.3" text-anchor="middle" class="r" letter-spacing="0.33">8.74</text>
<text x="423.61" y="740.20" font-size="9.3" text-anchor="middle" class="b" letter-spacing="0.33">0.344</text>
<text x="274.89" y="740.20" font-size="9.3" text-anchor="middle" class="r" letter-spacing="0.33">60.3</text>
<text x="474.28" y="740.20" font-size="9.3" text-anchor="middle" class="b" letter-spacing="0.33">2.375</text>
<text x="322.39" y="740.20" font-size="9.3" text-anchor="middle" class="r" letter-spacing="0.33">42.82</text>
<text x="521.83" y="740.20" font-size="9.3" text-anchor="middle" class="b" letter-spacing="0.33">1.687</text>
<text x="371.55" y="740.20" font-size="9.3" text-anchor="middle" class="r" letter-spacing="0.33">11.11</text>
<text x="570.72" y="740.20" font-size="9.3" text-anchor="middle" class="b" letter-spacing="0.33">7.46</text>
<text x="620.05" y="740.20" font-size="9.3" text-anchor="middle" class="r" letter-spacing="0.33">11.110</text>
<text x="668.33" y="740.20" font-size="9.3" text-anchor="middle" class="b" letter-spacing="0.33">0.622</text>
<text x="717.17" y="740.20" font-size="9.3" text-anchor="middle" class="r" letter-spacing="0.33">0.505</text>
<text x="765.44" y="740.20" font-size="9.3" text-anchor="middle" class="r" letter-spacing="0.33">1.440</text>
<text x="61.11" y="752.40" font-size="9.3" letter-spacing="0.33">2</text>
<text x="109.00" y="752.40" font-size="9.3" text-anchor="middle" letter-spacing="0.33">...</text>
<text x="138.11" y="752.40" font-size="9.3" text-anchor="middle" letter-spacing="0.33">XXS</text>
<text x="174.39" y="752.40" font-size="9.3" text-anchor="middle" letter-spacing="0.33">...</text>
<text x="225.00" y="752.40" font-size="9.3" text-anchor="middle" class="r" letter-spacing="0.33">11.07</text>
<text x="423.61" y="752.40" font-size="9.3" text-anchor="middle" class="b" letter-spacing="0.33">0.436</text>
<text x="274.89" y="752.40" font-size="9.3" text-anchor="middle" class="r" letter-spacing="0.33">60.3</text>
<text x="474.28" y="752.40" font-size="9.3" text-anchor="middle" class="b" letter-spacing="0.33">2.375</text>
<text x="322.39" y="752.40" font-size="9.3" text-anchor="middle" class="r" letter-spacing="0.33">38.16</text>
<text x="521.83" y="752.40" font-size="9.3" text-anchor="middle" class="b" letter-spacing="0.33">1.503</text>
<text x="371.55" y="752.40" font-size="9.3" text-anchor="middle" class="r" letter-spacing="0.33">13.44</text>
<text x="570.72" y="752.40" font-size="9.3" text-anchor="middle" class="b" letter-spacing="0.33">9.03</text>
<text x="620.05" y="752.40" font-size="9.3" text-anchor="middle" class="r" letter-spacing="0.33">13.440</text>
<text x="668.33" y="752.40" font-size="9.3" text-anchor="middle" class="b" letter-spacing="0.33">0.753</text>
<text x="717.17" y="752.40" font-size="9.3" text-anchor="middle" class="r" letter-spacing="0.33">0.505</text>
<text x="765.44" y="752.40" font-size="9.3" text-anchor="middle" class="r" letter-spacing="0.33">1.144</text>
<text x="58.44" y="764.10" font-size="9.3" letter-spacing="0.33">2 1/2</text>
<text x="109.00" y="764.10" font-size="9.3" text-anchor="middle" letter-spacing="0.33">5L</text>
<text x="138.11" y="764.10" font-size="9.3" text-anchor="middle" letter-spacing="0.33">...</text>
<text x="174.39" y="764.10" font-size="9.3" text-anchor="middle" letter-spacing="0.33">...</text>
<text x="225.00" y="764.10" font-size="9.3" text-anchor="middle" class="r" letter-spacing="0.33">2.11</text>
<text x="423.61" y="764.10" font-size="9.3" text-anchor="middle" class="b" letter-spacing="0.33">0.083</text>
<text x="274.89" y="764.10" font-size="9.3" text-anchor="middle" class="r" letter-spacing="0.33">73</text>
<text x="474.28" y="764.10" font-size="9.3" text-anchor="middle" class="b" letter-spacing="0.33">2.875</text>
<text x="322.39" y="764.10" font-size="9.3" text-anchor="middle" class="r" letter-spacing="0.33">68.78</text>
<text x="521.83" y="764.10" font-size="9.3" text-anchor="middle" class="b" letter-spacing="0.33">2.709</text>
<text x="371.55" y="764.10" font-size="9.3" text-anchor="middle" class="r" letter-spacing="0.33">3.69</text>
<text x="570.72" y="764.10" font-size="9.3" text-anchor="middle" class="b" letter-spacing="0.33">2.47</text>
<text x="620.05" y="764.10" font-size="9.3" text-anchor="middle" class="r" letter-spacing="0.33">3.690</text>
<text x="668.33" y="764.10" font-size="9.3" text-anchor="middle" class="b" letter-spacing="0.33">0.206</text>
<text x="717.17" y="764.10" font-size="9.3" text-anchor="middle" class="r" letter-spacing="0.33">0.584</text>
<text x="765.44" y="764.10" font-size="9.3" text-anchor="middle" class="r" letter-spacing="0.33">3.715</text>
<text x="58.44" y="775.35" font-size="9.3" letter-spacing="0.33">2 1/2</text>
<text x="109.00" y="775.35" font-size="9.3" text-anchor="middle" letter-spacing="0.33">5L</text>
<text x="138.11" y="775.35" font-size="9.3" text-anchor="middle" letter-spacing="0.33">...</text>
<text x="174.39" y="775.35" font-size="9.3" text-anchor="middle" letter-spacing="0.33">...</text>
<text x="225.00" y="775.35" font-size="9.3" text-anchor="middle" class="r" letter-spacing="0.33">2.77</text>
<text x="423.61" y="775.35" font-size="9.3" text-anchor="middle" class="b" letter-spacing="0.33">0.109</text>
<text x="274.89" y="775.35" font-size="9.3" text-anchor="middle" class="r" letter-spacing="0.33">73</text>
<text x="474.28" y="775.35" font-size="9.3" text-anchor="middle" class="b" letter-spacing="0.33">2.875</text>
<text x="322.39" y="775.35" font-size="9.3" text-anchor="middle" class="r" letter-spacing="0.33">67.46</text>
<text x="521.83" y="775.35" font-size="9.3" text-anchor="middle" class="b" letter-spacing="0.33">2.657</text>
<text x="371.55" y="775.35" font-size="9.3" text-anchor="middle" class="r" letter-spacing="0.33">4.8</text>
<text x="570.72" y="775.35" font-size="9.3" text-anchor="middle" class="b" letter-spacing="0.33">3.22</text>
<text x="620.05" y="775.35" font-size="9.3" text-anchor="middle" class="r" letter-spacing="0.33">4.800</text>
<text x="668.33" y="775.35" font-size="9.3" text-anchor="middle" class="b" letter-spacing="0.33">0.268</text>
<text x="717.17" y="775.35" font-size="9.3" text-anchor="middle" class="r" letter-spacing="0.33">0.584</text>
<text x="765.44" y="775.35" font-size="9.3" text-anchor="middle" class="r" letter-spacing="0.33">3.574</text>
<text x="58.44" y="787.50" font-size="9.3" letter-spacing="0.33">2 1/2</text>
<text x="109.00" y="787.50" font-size="9.3" text-anchor="middle" letter-spacing="0.33">5L</text>
<text x="138.11" y="787.50" font-size="9.3" text-anchor="middle" letter-spacing="0.33">...</text>
<text x="174.39" y="787.50" font-size="9.3" text-anchor="middle" letter-spacing="0.33">...</text>
<text x="225.00" y="787.50" font-size="9.3" text-anchor="middle" class="r" letter-spacing="0.33">3.18</text>
<text x="423.61" y="787.50" font-size="9.3" text-anchor="middle" class="b" letter-spacing="0.33">0.125</text>
<text x="274.89" y="787.50" font-size="9.3" text-anchor="middle" class="r" letter-spacing="0.33">73</text>
<text x="474.28" y="787.50" font-size="9.3" text-anchor="middle" class="b" letter-spacing="0.33">2.875</text>
<text x="322.39" y="787.50" font-size="9.3" text-anchor="middle" class="r" letter-spacing="0.33">66.64</text>
<text x="521.83" y="787.50" font-size="9.3" text-anchor="middle" class="b" letter-spacing="0.33">2.625</text>
<text x="371.55" y="787.50" font-size="9.3" text-anchor="middle" class="r" letter-spacing="0.33">5.48</text>
<text x="570.72" y="787.50" font-size="9.3" text-anchor="middle" class="b" letter-spacing="0.33">3.67</text>
<text x="620.05" y="787.50" font-size="9.3" text-anchor="middle" class="r" letter-spacing="0.33">5.480</text>
<text x="668.33" y="787.50" font-size="9.3" text-anchor="middle" class="b" letter-spacing="0.33">0.306</text>
<text x="717.17" y="787.50" font-size="9.3" text-anchor="middle" class="r" letter-spacing="0.33">0.584</text>
<text x="765.44" y="787.50" font-size="9.3" text-anchor="middle" class="r" letter-spacing="0.33">3.488</text>
<text x="58.44" y="799.00" font-size="9.3" letter-spacing="0.33">2 1/2</text>
<text x="109.00" y="799.00" font-size="9.3" text-anchor="middle" letter-spacing="0.33">5L</text>
<text x="138.11" y="799.00" font-size="9.3" text-anchor="middle" letter-spacing="0.33">...</text>
<text x="174.39" y="799.00" font-size="9.3" text-anchor="middle" letter-spacing="0.33">...</text>
<text x="225.00" y="799.00" font-size="9.3" text-anchor="middle" class="r" letter-spacing="0.33">3.58</text>
<text x="423.61" y="799.00" font-size="9.3" text-anchor="middle" class="b" letter-spacing="0.33">0.141</text>
<text x="274.89" y="799.00" font-size="9.3" text-anchor="middle" class="r" letter-spacing="0.33">73</text>
<text x="474.28" y="799.00" font-size="9.3" text-anchor="middle" class="b" letter-spacing="0.33">2.875</text>
<text x="322.39" y="799.00" font-size="9.3" text-anchor="middle" class="r" letter-spacing="0.33">65.84</text>
<text x="521.83" y="799.00" font-size="9.3" text-anchor="middle" class="b" letter-spacing="0.33">2.593</text>
<text x="371.55" y="799.00" font-size="9.3" text-anchor="middle" class="r" letter-spacing="0.33">6.13</text>
<text x="570.72" y="799.00" font-size="9.3" text-anchor="middle" class="b" letter-spacing="0.33">4.12</text>
<text x="620.05" y="799.00" font-size="9.3" text-anchor="middle" class="r" letter-spacing="0.33">6.130</text>
<text x="668.33" y="799.00" font-size="9.3" text-anchor="middle" class="b" letter-spacing="0.33">0.343</text>
<text x="717.17" y="799.00" font-size="9.3" text-anchor="middle" class="r" letter-spacing="0.33">0.584</text>
<text x="765.44" y="799.00" font-size="9.3" text-anchor="middle" class="r" letter-spacing="0.33">3.405</text>
<text x="58.44" y="810.30" font-size="9.3" letter-spacing="0.33">2 1/2</text>
<text x="109.00" y="810.30" font-size="9.3" text-anchor="middle" letter-spacing="0.33">5L</text>
<text x="138.11" y="810.30" font-size="9.3" text-anchor="middle" letter-spacing="0.33">...</text>
<text x="174.39" y="810.30" font-size="9.3" text-anchor="middle" letter-spacing="0.33">...</text>
<text x="225.00" y="810.30" font-size="9.3" text-anchor="middle" class="r" letter-spacing="0.33">3.96</text>
<text x="423.61" y="810.30" font-size="9.3" text-anchor="middle" class="b" letter-spacing="0.33">0.156</text>
<text x="274.89" y="810.30" font-size="9.3" text-anchor="middle" class="r" letter-spacing="0.33">73</text>
<text x="474.28" y="810.30" font-size="9.3" text-anchor="middle" class="b" letter-spacing="0.33">2.875</text>
<text x="322.39" y="810.30" font-size="9.3" text-anchor="middle" class="r" letter-spacing="0.33">65.08</text>
<text x="521.83" y="810.30" font-size="9.3" text-anchor="middle" class="b" letter-spacing="0.33">2.563</text>
<text x="371.55" y="810.30" font-size="9.3" text-anchor="middle" class="r" letter-spacing="0.33">6.74</text>
<text x="570.72" y="810.30" font-size="9.3" text-anchor="middle" class="b" letter-spacing="0.33">4.53</text>
<text x="620.05" y="810.30" font-size="9.3" text-anchor="middle" class="r" letter-spacing="0.33">6.740</text>
<text x="668.33" y="810.30" font-size="9.3" text-anchor="middle" class="b" letter-spacing="0.33">0.378</text>
<text x="717.17" y="810.30" font-size="9.3" text-anchor="middle" class="r" letter-spacing="0.33">0.584</text>
<text x="765.44" y="810.30" font-size="9.3" text-anchor="middle" class="r" letter-spacing="0.33">3.326</text>
<text x="58.44" y="822.00" font-size="9.3" letter-spacing="0.33">2 1/2</text>
<text x="109.00" y="822.00" font-size="9.3" text-anchor="middle" letter-spacing="0.33">5L</text>
<text x="138.11" y="822.00" font-size="9.3" text-anchor="middle" letter-spacing="0.33">...</text>
<text x="174.39" y="822.00" font-size="9.3" text-anchor="middle" letter-spacing="0.33">...</text>
<text x="225.00" y="822.00" font-size="9.3" text-anchor="middle" class="r" letter-spacing="0.33">4.37</text>
<text x="423.61" y="822.00" font-size="9.3" text-anchor="middle" class="b" letter-spacing="0.33">0.172</text>
<text x="274.89" y="822.00" font-size="9.3" text-anchor="middle" class="r" letter-spacing="0.33">73</text>
<text x="474.28" y="822.00" font-size="9.3" text-anchor="middle" class="b" letter-spacing="0.33">2.875</text>
<text x="322.39" y="822.00" font-size="9.3" text-anchor="middle" class="r" letter-spacing="0.33">64.26</text>
<text x="521.83" y="822.00" font-size="9.3" text-anchor="middle" class="b" letter-spacing="0.33">2.531</text>
<text x="371.55" y="822.00" font-size="9.3" text-anchor="middle" class="r" letter-spacing="0.33">7.4</text>
<text x="570.72" y="822.00" font-size="9.3" text-anchor="middle" class="b" letter-spacing="0.33">4.97</text>
<text x="620.05" y="822.00" font-size="9.3" text-anchor="middle" class="r" letter-spacing="0.33">7.400</text>
<text x="668.33" y="822.00" font-size="9.3" text-anchor="middle" class="b" letter-spacing="0.33">0.414</text>
<text x="717.17" y="822.00" font-size="9.3" text-anchor="middle" class="r" letter-spacing="0.33">0.584</text>
<text x="765.44" y="822.00" font-size="9.3" text-anchor="middle" class="r" letter-spacing="0.33">3.243</text>
<text x="58.44" y="833.70" font-size="9.3" letter-spacing="0.33">2 1/2</text>
<text x="109.00" y="833.70" font-size="9.3" text-anchor="middle" letter-spacing="0.33">5L</text>
<text x="138.11" y="833.70" font-size="9.3" text-anchor="middle" letter-spacing="0.33">...</text>
<text x="174.39" y="833.70" font-size="9.3" text-anchor="middle" letter-spacing="0.33">...</text>
<text x="225.00" y="833.70" font-size="9.3" text-anchor="middle" class="r" letter-spacing="0.33">4.78</text>
<text x="423.61" y="833.70" font-size="9.3" text-anchor="middle" class="b" letter-spacing="0.33">0.188</text>
<text x="274.89" y="833.70" font-size="9.3" text-anchor="middle" class="r" letter-spacing="0.33">73</text>
<text x="474.28" y="833.70" font-size="9.3" text-anchor="middle" class="b" letter-spacing="0.33">2.875</text>
<text x="322.39" y="833.70" font-size="9.3" text-anchor="middle" class="r" letter-spacing="0.33">63.44</text>
<text x="521.83" y="833.70" font-size="9.3" text-anchor="middle" class="b" letter-spacing="0.33">2.499</text>
<text x="371.55" y="833.70" font-size="9.3" text-anchor="middle" class="r" letter-spacing="0.33">8.04</text>
<text x="570.72" y="833.70" font-size="9.3" text-anchor="middle" class="b" letter-spacing="0.33">5.4</text>
<text x="620.05" y="833.70" font-size="9.3" text-anchor="middle" class="r" letter-spacing="0.33">8.040</text>
<text x="668.33" y="833.70" font-size="9.3" text-anchor="middle" class="b" letter-spacing="0.33">0.450</text>
<text x="717.17" y="833.70" font-size="9.3" text-anchor="middle" class="r" letter-spacing="0.33">0.584</text>
<text x="765.44" y="833.70" font-size="9.3" text-anchor="middle" class="r" letter-spacing="0.33">3.161</text>
<text x="58.44" y="845.40" font-size="9.3" letter-spacing="0.33">2 1/2</text>
<text x="109.00" y="845.40" font-size="9.3" text-anchor="middle" letter-spacing="0.33">5L</text>
<text x="138.11" y="845.40" font-size="9.3" text-anchor="middle" letter-spacing="0.33">STD</text>
<text x="174.39" y="845.40" font-size="9.3" text-anchor="middle" letter-spacing="0.33">40</text>
<text x="225.00" y="845.40" font-size="9.3" text-anchor="middle" class="r" letter-spacing="0.33">5.16</text>
<text x="423.61" y="845.40" font-size="9.3" text-anchor="middle" class="b" letter-spacing="0.33">0.203</text>
<text x="274.89" y="845.40" font-size="9.3" text-anchor="middle" class="r" letter-spacing="0.33">73</text>
<text x="474.28" y="845.40" font-size="9.3" text-anchor="middle" class="b" letter-spacing="0.33">2.875</text>
<text x="322.39" y="845.40" font-size="9.3" text-anchor="middle" class="r" letter-spacing="0.33">62.68</text>
<text x="521.83" y="845.40" font-size="9.3" text-anchor="middle" class="b" letter-spacing="0.33">2.469</text>
<text x="371.55" y="845.40" font-size="9.3" text-anchor="middle" class="r" letter-spacing="0.33">8.63</text>
<text x="570.72" y="845.40" font-size="9.3" text-anchor="middle" class="b" letter-spacing="0.33">5.79</text>
<text x="620.05" y="845.40" font-size="9.3" text-anchor="middle" class="r" letter-spacing="0.33">8.630</text>
<text x="668.33" y="845.40" font-size="9.3" text-anchor="middle" class="b" letter-spacing="0.33">0.483</text>
<text x="717.17" y="845.40" font-size="9.3" text-anchor="middle" class="r" letter-spacing="0.33">0.584</text>
<text x="765.44" y="845.40" font-size="9.3" text-anchor="middle" class="r" letter-spacing="0.33">3.086</text>
<text x="58.44" y="856.60" font-size="9.3" letter-spacing="0.33">2 1/2</text>
<text x="109.00" y="856.60" font-size="9.3" text-anchor="middle" letter-spacing="0.33">5L</text>
<text x="138.11" y="856.60" font-size="9.3" text-anchor="middle" letter-spacing="0.33">...</text>
<text x="174.39" y="856.60" font-size="9.3" text-anchor="middle" letter-spacing="0.33">...</text>
<text x="225.00" y="856.60" font-size="9.3" text-anchor="middle" class="r" letter-spacing="0.33">5.49</text>
<text x="423.61" y="856.60" font-size="9.3" text-anchor="middle" class="b" letter-spacing="0.33">0.216</text>
<text x="274.89" y="856.60" font-size="9.3" text-anchor="middle" class="r" letter-spacing="0.33">73</text>
<text x="474.28" y="856.60" font-size="9.3" text-anchor="middle" class="b" letter-spacing="0.33">2.875</text>
<text x="322.39" y="856.60" font-size="9.3" text-anchor="middle" class="r" letter-spacing="0.33">62.02</text>
<text x="521.83" y="856.60" font-size="9.3" text-anchor="middle" class="b" letter-spacing="0.33">2.443</text>
<text x="371.55" y="856.60" font-size="9.3" text-anchor="middle" class="r" letter-spacing="0.33">9.14</text>
<text x="570.72" y="856.60" font-size="9.3" text-anchor="middle" class="b" letter-spacing="0.33">6.13</text>
<text x="620.05" y="856.60" font-size="9.3" text-anchor="middle" class="r" letter-spacing="0.33">9.140</text>
<text x="668.33" y="856.60" font-size="9.3" text-anchor="middle" class="b" letter-spacing="0.33">0.511</text>
<text x="717.17" y="856.60" font-size="9.3" text-anchor="middle" class="r" letter-spacing="0.33">0.584</text>
<text x="765.44" y="856.60" font-size="9.3" text-anchor="middle" class="r" letter-spacing="0.33">3.021</text>
<text x="58.44" y="868.40" font-size="9.3" letter-spacing="0.33">2 1/2</text>
<text x="109.00" y="868.40" font-size="9.3" text-anchor="middle" letter-spacing="0.33">5L</text>
<text x="138.11" y="868.40" font-size="9.3" text-anchor="middle" letter-spacing="0.33">...</text>
<text x="174.39" y="868.40" font-size="9.3" text-anchor="middle" letter-spacing="0.33">...</text>
<text x="225.00" y="868.40" font-size="9.3" text-anchor="middle" class="r" letter-spacing="0.33">6.35</text>
<text x="423.61" y="868.40" font-size="9.3" text-anchor="middle" class="b" letter-spacing="0.33">0.25</text>
<text x="274.89" y="868.40" font-size="9.3" text-anchor="middle" class="r" letter-spacing="0.33">73</text>
<text x="474.28" y="868.40" font-size="9.3" text-anchor="middle" class="b" letter-spacing="0.33">2.875</text>
<text x="322.39" y="868.40" font-size="9.3" text-anchor="middle" class="r" letter-spacing="0.33">60.3</text>
<text x="521.83" y="868.40" font-size="9.3" text-anchor="middle" class="b" letter-spacing="0.33">2.375</text>
<text x="371.55" y="868.40" font-size="9.3" text-anchor="middle" class="r" letter-spacing="0.33">10.44</text>
<text x="570.72" y="868.40" font-size="9.3" text-anchor="middle" class="b" letter-spacing="0.33">7.01</text>
<text x="620.05" y="868.40" font-size="9.3" text-anchor="middle" class="r" letter-spacing="0.33">10.440</text>
<text x="668.33" y="868.40" font-size="9.3" text-anchor="middle" class="b" letter-spacing="0.33">0.584</text>
<text x="717.17" y="868.40" font-size="9.3" text-anchor="middle" class="r" letter-spacing="0.33">0.584</text>
<text x="765.44" y="868.40" font-size="9.3" text-anchor="middle" class="r" letter-spacing="0.33">2.856</text>
<text x="58.44" y="880.30" font-size="9.3" letter-spacing="0.33">2 1/2</text>
<text x="109.00" y="880.30" font-size="9.3" text-anchor="middle" letter-spacing="0.33">5L</text>
<text x="138.11" y="880.30" font-size="9.3" text-anchor="middle" letter-spacing="0.33">XS</text>
<text x="174.39" y="880.30" font-size="9.3" text-anchor="middle" letter-spacing="0.33">80</text>
<text x="225.00" y="880.30" font-size="9.3" text-anchor="middle" class="r" letter-spacing="0.33">7.01</text>
<text x="423.61" y="880.30" font-size="9.3" text-anchor="middle" class="b" letter-spacing="0.33">0.276</text>
<text x="274.89" y="880.30" font-size="9.3" text-anchor="middle" class="r" letter-spacing="0.33">73</text>
<text x="474.28" y="880.30" font-size="9.3" text-anchor="middle" class="b" letter-spacing="0.33">2.875</text>
<text x="322.39" y="880.30" font-size="9.3" text-anchor="middle" class="r" letter-spacing="0.33">58.98</text>
<text x="521.83" y="880.30" font-size="9.3" text-anchor="middle" class="b" letter-spacing="0.33">2.323</text>
<text x="371.55" y="880.30" font-size="9.3" text-anchor="middle" class="r" letter-spacing="0.33">11.41</text>
<text x="570.72" y="880.30" font-size="9.3" text-anchor="middle" class="b" letter-spacing="0.33">7.66</text>
<text x="620.05" y="880.30" font-size="9.3" text-anchor="middle" class="r" letter-spacing="0.33">11.410</text>
<text x="668.33" y="880.30" font-size="9.3" text-anchor="middle" class="b" letter-spacing="0.33">0.638</text>
<text x="717.17" y="880.30" font-size="9.3" text-anchor="middle" class="r" letter-spacing="0.33">0.584</text>
<text x="765.44" y="880.30" font-size="9.3" text-anchor="middle" class="r" letter-spacing="0.33">2.732</text>
<text x="58.44" y="892.10" font-size="9.3" letter-spacing="0.33">2 1/2</text>
<text x="109.00" y="892.10" font-size="9.3" text-anchor="middle" letter-spacing="0.33">...</text>
<text x="138.11" y="892.10" font-size="9.3" text-anchor="middle" letter-spacing="0.33">...</text>
<text x="174.39" y="892.10" font-size="9.3" text-anchor="middle" letter-spacing="0.33">160</text>
<text x="225.00" y="892.10" font-size="9.3" text-anchor="middle" class="r" letter-spacing="0.33">9.53</text>
<text x="423.61" y="892.10" font-size="9.3" text-anchor="middle" class="b" letter-spacing="0.33">0.375</text>
<text x="274.89" y="892.10" font-size="9.3" text-anchor="middle" class="r" letter-spacing="0.33">73</text>
<text x="474.28" y="892.10" font-size="9.3" text-anchor="middle" class="b" letter-spacing="0.33">2.875</text>
<text x="322.39" y="892.10" font-size="9.3" text-anchor="middle" class="r" letter-spacing="0.33">53.94</text>
<text x="521.83" y="892.10" font-size="9.3" text-anchor="middle" class="b" letter-spacing="0.33">2.125</text>
<text x="371.55" y="892.10" font-size="9.3" text-anchor="middle" class="r" letter-spacing="0.33">14.92</text>
<text x="570.72" y="892.10" font-size="9.3" text-anchor="middle" class="b" letter-spacing="0.33">10.01</text>
<text x="620.05" y="892.10" font-size="9.3" text-anchor="middle" class="r" letter-spacing="0.33">14.920</text>
<text x="668.33" y="892.10" font-size="9.3" text-anchor="middle" class="b" letter-spacing="0.33">0.834</text>
<text x="717.17" y="892.10" font-size="9.3" text-anchor="middle" class="r" letter-spacing="0.33">0.584</text>
<text x="765.44" y="892.10" font-size="9.3" text-anchor="middle" class="r" letter-spacing="0.33">2.285</text>
<text x="58.44" y="904.10" font-size="9.3" letter-spacing="0.33">2 1/2</text>
<text x="109.00" y="904.10" font-size="9.3" text-anchor="middle" letter-spacing="0.33">5L</text>
<text x="138.11" y="904.10" font-size="9.3" text-anchor="middle" letter-spacing="0.33">XXS</text>
<text x="174.39" y="904.10" font-size="9.3" text-anchor="middle" letter-spacing="0.33">...</text>
<text x="225.00" y="904.10" font-size="9.3" text-anchor="middle" class="r" letter-spacing="0.33">14.02</text>
<text x="423.61" y="904.10" font-size="9.3" text-anchor="middle" class="b" letter-spacing="0.33">0.552</text>
<text x="274.89" y="904.10" font-size="9.3" text-anchor="middle" class="r" letter-spacing="0.33">73</text>
<text x="474.28" y="904.10" font-size="9.3" text-anchor="middle" class="b" letter-spacing="0.33">2.875</text>
<text x="322.39" y="904.10" font-size="9.3" text-anchor="middle" class="r" letter-spacing="0.33">44.96</text>
<text x="521.83" y="904.10" font-size="9.3" text-anchor="middle" class="b" letter-spacing="0.33">1.771</text>
<text x="371.55" y="904.10" font-size="9.3" text-anchor="middle" class="r" letter-spacing="0.33">20.39</text>
<text x="570.72" y="904.10" font-size="9.3" text-anchor="middle" class="b" letter-spacing="0.33">13.69</text>
<text x="620.05" y="904.10" font-size="9.3" text-anchor="middle" class="r" letter-spacing="0.33">20.390</text>
<text x="668.33" y="904.10" font-size="9.3" text-anchor="middle" class="b" letter-spacing="0.33">1.141</text>
<text x="717.17" y="904.10" font-size="9.3" text-anchor="middle" class="r" letter-spacing="0.33">0.584</text>
<text x="765.44" y="904.10" font-size="9.3" text-anchor="middle" class="r" letter-spacing="0.33">1.588</text>
<text x="61.11" y="915.80" font-size="9.3" letter-spacing="0.33">3</text>
<text x="109.00" y="915.80" font-size="9.3" text-anchor="middle" letter-spacing="0.33">5L</text>
<text x="138.11" y="915.80" font-size="9.3" text-anchor="middle" letter-spacing="0.33">...</text>
<text x="174.39" y="915.80" font-size="9.3" text-anchor="middle" letter-spacing="0.33">...</text>
<text x="225.00" y="915.80" font-size="9.3" text-anchor="middle" class="r" letter-spacing="0.33">2.11</text>
<text x="423.61" y="915.80" font-size="9.3" text-anchor="middle" class="b" letter-spacing="0.33">0.083</text>
<text x="274.89" y="915.80" font-size="9.3" text-anchor="middle" class="r" letter-spacing="0.33">88.9</text>
<text x="474.28" y="915.80" font-size="9.3" text-anchor="middle" class="b" letter-spacing="0.33">3.5</text>
<text x="322.39" y="915.80" font-size="9.3" text-anchor="middle" class="r" letter-spacing="0.33">84.68</text>
<text x="521.83" y="915.80" font-size="9.3" text-anchor="middle" class="b" letter-spacing="0.33">3.334</text>
<text x="371.55" y="915.80" font-size="9.3" text-anchor="middle" class="r" letter-spacing="0.33">4.52</text>
<text x="570.72" y="915.80" font-size="9.3" text-anchor="middle" class="b" letter-spacing="0.33">3.03</text>
<text x="620.05" y="915.80" font-size="9.3" text-anchor="middle" class="r" letter-spacing="0.33">4.520</text>
<text x="668.33" y="915.80" font-size="9.3" text-anchor="middle" class="b" letter-spacing="0.33">0.253</text>
<text x="717.17" y="915.80" font-size="9.3" text-anchor="middle" class="r" letter-spacing="0.33">0.684</text>
<text x="765.44" y="915.80" font-size="9.3" text-anchor="middle" class="r" letter-spacing="0.33">5.632</text>
<text x="61.11" y="927.40" font-size="9.3" letter-spacing="0.33">3</text>
<text x="109.00" y="927.40" font-size="9.3" text-anchor="middle" letter-spacing="0.33">5L</text>
<text x="138.11" y="927.40" font-size="9.3" text-anchor="middle" letter-spacing="0.33">...</text>
<text x="174.39" y="927.40" font-size="9.3" text-anchor="middle" letter-spacing="0.33">...</text>
<text x="225.00" y="927.40" font-size="9.3" text-anchor="middle" class="r" letter-spacing="0.33">2.77</text>
<text x="423.61" y="927.40" font-size="9.3" text-anchor="middle" class="b" letter-spacing="0.33">0.109</text>
<text x="274.89" y="927.40" font-size="9.3" text-anchor="middle" class="r" letter-spacing="0.33">88.9</text>
<text x="474.28" y="927.40" font-size="9.3" text-anchor="middle" class="b" letter-spacing="0.33">3.5</text>
<text x="322.39" y="927.40" font-size="9.3" text-anchor="middle" class="r" letter-spacing="0.33">83.36</text>
<text x="521.83" y="927.40" font-size="9.3" text-anchor="middle" class="b" letter-spacing="0.33">3.282</text>
<text x="371.55" y="927.40" font-size="9.3" text-anchor="middle" class="r" letter-spacing="0.33">5.88</text>
<text x="570.72" y="927.40" font-size="9.3" text-anchor="middle" class="b" letter-spacing="0.33">3.95</text>
<text x="620.05" y="927.40" font-size="9.3" text-anchor="middle" class="r" letter-spacing="0.33">5.880</text>
<text x="668.33" y="927.40" font-size="9.3" text-anchor="middle" class="b" letter-spacing="0.33">0.329</text>
<text x="717.17" y="927.40" font-size="9.3" text-anchor="middle" class="r" letter-spacing="0.33">0.684</text>
<text x="765.44" y="927.40" font-size="9.3" text-anchor="middle" class="r" letter-spacing="0.33">5.458</text>
<text x="61.11" y="938.90" font-size="9.3" letter-spacing="0.33">3</text>
<text x="109.00" y="938.90" font-size="9.3" text-anchor="middle" letter-spacing="0.33">5L</text>
<text x="138.11" y="938.90" font-size="9.3" text-anchor="middle" letter-spacing="0.33">...</text>
<text x="174.39" y="938.90" font-size="9.3" text-anchor="middle" letter-spacing="0.33">...</text>
<text x="225.00" y="938.90" font-size="9.3" text-anchor="middle" class="r" letter-spacing="0.33">3.18</text>
<text x="423.61" y="938.90" font-size="9.3" text-anchor="middle" class="b" letter-spacing="0.33">0.125</text>
<text x="274.89" y="938.90" font-size="9.3" text-anchor="middle" class="r" letter-spacing="0.33">88.9</text>
<text x="474.28" y="938.90" font-size="9.3" text-anchor="middle" class="b" letter-spacing="0.33">3.5</text>
<text x="322.39" y="938.90" font-size="9.3" text-anchor="middle" class="r" letter-spacing="0.33">82.54</text>
<text x="521.83" y="938.90" font-size="9.3" text-anchor="middle" class="b" letter-spacing="0.33">3.25</text>
<text x="371.55" y="938.90" font-size="9.3" text-anchor="middle" class="r" letter-spacing="0.33">6.72</text>
<text x="570.72" y="938.90" font-size="9.3" text-anchor="middle" class="b" letter-spacing="0.33">4.51</text>
<text x="620.05" y="938.90" font-size="9.3" text-anchor="middle" class="r" letter-spacing="0.33">6.720</text>
<text x="668.33" y="938.90" font-size="9.3" text-anchor="middle" class="b" letter-spacing="0.33">0.376</text>
<text x="717.17" y="938.90" font-size="9.3" text-anchor="middle" class="r" letter-spacing="0.33">0.684</text>
<text x="765.44" y="938.90" font-size="9.3" text-anchor="middle" class="r" letter-spacing="0.33">5.351</text>
<text x="61.11" y="950.65" font-size="9.3" letter-spacing="0.33">3</text>
<text x="109.00" y="950.65" font-size="9.3" text-anchor="middle" letter-spacing="0.33">5L</text>
<text x="138.11" y="950.65" font-size="9.3" text-anchor="middle" letter-spacing="0.33">...</text>
<text x="174.39" y="950.65" font-size="9.3" text-anchor="middle" letter-spacing="0.33">...</text>
<text x="225.00" y="950.65" font-size="9.3" text-anchor="middle" class="r" letter-spacing="0.33">3.58</text>
<text x="423.61" y="950.65" font-size="9.3" text-anchor="middle" class="b" letter-spacing="0.33">0.141</text>
<text x="274.89" y="950.65" font-size="9.3" text-anchor="middle" class="r" letter-spacing="0.33">88.9</text>
<text x="474.28" y="950.65" font-size="9.3" text-anchor="middle" class="b" letter-spacing="0.33">3.5</text>
<text x="322.39" y="950.65" font-size="9.3" text-anchor="middle" class="r" letter-spacing="0.33">81.74</text>
<text x="521.83" y="950.65" font-size="9.3" text-anchor="middle" class="b" letter-spacing="0.33">3.218</text>
<text x="371.55" y="950.65" font-size="9.3" text-anchor="middle" class="r" letter-spacing="0.33">7.53</text>
<text x="570.72" y="950.65" font-size="9.3" text-anchor="middle" class="b" letter-spacing="0.33">5.06</text>
<text x="620.05" y="950.65" font-size="9.3" text-anchor="middle" class="r" letter-spacing="0.33">7.530</text>
<text x="668.33" y="950.65" font-size="9.3" text-anchor="middle" class="b" letter-spacing="0.33">0.422</text>
<text x="717.17" y="950.65" font-size="9.3" text-anchor="middle" class="r" letter-spacing="0.33">0.684</text>
<text x="765.44" y="950.65" font-size="9.3" text-anchor="middle" class="r" letter-spacing="0.33">5.248</text>
<text x="61.11" y="962.30" font-size="9.3" letter-spacing="0.33">3</text>
<text x="109.00" y="962.30" font-size="9.3" text-anchor="middle" letter-spacing="0.33">5L</text>
<text x="138.11" y="962.30" font-size="9.3" text-anchor="middle" letter-spacing="0.33">...</text>
<text x="174.39" y="962.30" font-size="9.3" text-anchor="middle" letter-spacing="0.33">...</text>
<text x="225.00" y="962.30" font-size="9.3" text-anchor="middle" class="r" letter-spacing="0.33">3.96</text>
<text x="423.61" y="962.30" font-size="9.3" text-anchor="middle" class="b" letter-spacing="0.33">0.156</text>
<text x="274.89" y="962.30" font-size="9.3" text-anchor="middle" class="r" letter-spacing="0.33">88.9</text>
<text x="474.28" y="962.30" font-size="9.3" text-anchor="middle" class="b" letter-spacing="0.33">3.5</text>
<text x="322.39" y="962.30" font-size="9.3" text-anchor="middle" class="r" letter-spacing="0.33">80.98</text>
<text x="521.83" y="962.30" font-size="9.3" text-anchor="middle" class="b" letter-spacing="0.33">3.188</text>
<text x="371.55" y="962.30" font-size="9.3" text-anchor="middle" class="r" letter-spacing="0.33">8.29</text>
<text x="570.72" y="962.30" font-size="9.3" text-anchor="middle" class="b" letter-spacing="0.33">5.57</text>
<text x="620.05" y="962.30" font-size="9.3" text-anchor="middle" class="r" letter-spacing="0.33">8.290</text>
<text x="668.33" y="962.30" font-size="9.3" text-anchor="middle" class="b" letter-spacing="0.33">0.464</text>
<text x="717.17" y="962.30" font-size="9.3" text-anchor="middle" class="r" letter-spacing="0.33">0.684</text>
<text x="765.44" y="962.30" font-size="9.3" text-anchor="middle" class="r" letter-spacing="0.33">5.150</text>
<text x="61.11" y="974.10" font-size="9.3" letter-spacing="0.33">3</text>
<text x="109.00" y="974.10" font-size="9.3" text-anchor="middle" letter-spacing="0.33">5L</text>
<text x="138.11" y="974.10" font-size="9.3" text-anchor="middle" letter-spacing="0.33">...</text>
<text x="174.39" y="974.10" font-size="9.3" text-anchor="middle" letter-spacing="0.33">...</text>
<text x="225.00" y="974.10" font-size="9.3" text-anchor="middle" class="r" letter-spacing="0.33">4.37</text>
<text x="423.61" y="974.10" font-size="9.3" text-anchor="middle" class="b" letter-spacing="0.33">0.172</text>
<text x="274.89" y="974.10" font-size="9.3" text-anchor="middle" class="r" letter-spacing="0.33">88.9</text>
<text x="474.28" y="974.10" font-size="9.3" text-anchor="middle" class="b" letter-spacing="0.33">3.5</text>
<text x="322.39" y="974.10" font-size="9.3" text-anchor="middle" class="r" letter-spacing="0.33">80.16</text>
<text x="521.83" y="974.10" font-size="9.3" text-anchor="middle" class="b" letter-spacing="0.33">3.156</text>
<text x="371.55" y="974.10" font-size="9.3" text-anchor="middle" class="r" letter-spacing="0.33">9.11</text>
<text x="570.72" y="974.10" font-size="9.3" text-anchor="middle" class="b" letter-spacing="0.33">6.11</text>
<text x="620.05" y="974.10" font-size="9.3" text-anchor="middle" class="r" letter-spacing="0.33">9.110</text>
<text x="668.33" y="974.10" font-size="9.3" text-anchor="middle" class="b" letter-spacing="0.33">0.509</text>
<text x="717.17" y="974.10" font-size="9.3" text-anchor="middle" class="r" letter-spacing="0.33">0.684</text>
<text x="765.44" y="974.10" font-size="9.3" text-anchor="middle" class="r" letter-spacing="0.33">5.047</text>
<text x="61.11" y="985.60" font-size="9.3" letter-spacing="0.33">3</text>
<text x="109.00" y="985.60" font-size="9.3" text-anchor="middle" letter-spacing="0.33">5L</text>
<text x="138.11" y="985.60" font-size="9.3" text-anchor="middle" letter-spacing="0.33">...</text>
<text x="174.39" y="985.60" font-size="9.3" text-anchor="middle" letter-spacing="0.33">...</text>
<text x="225.00" y="985.60" font-size="9.3" text-anchor="middle" class="r" letter-spacing="0.33">4.78</text>
<text x="423.61" y="985.60" font-size="9.3" text-anchor="middle" class="b" letter-spacing="0.33">0.188</text>
<text x="274.89" y="985.60" font-size="9.3" text-anchor="middle" class="r" letter-spacing="0.33">88.9</text>
<text x="474.28" y="985.60" font-size="9.3" text-anchor="middle" class="b" letter-spacing="0.33">3.5</text>
<text x="322.39" y="985.60" font-size="9.3" text-anchor="middle" class="r" letter-spacing="0.33">79.34</text>
<text x="521.83" y="985.60" font-size="9.3" text-anchor="middle" class="b" letter-spacing="0.33">3.124</text>
<text x="371.55" y="985.60" font-size="9.3" text-anchor="middle" class="r" letter-spacing="0.33">9.92</text>
<text x="570.72" y="985.60" font-size="9.3" text-anchor="middle" class="b" letter-spacing="0.33">6.65</text>
<text x="620.05" y="985.60" font-size="9.3" text-anchor="middle" class="r" letter-spacing="0.33">9.920</text>
<text x="668.33" y="985.60" font-size="9.3" text-anchor="middle" class="b" letter-spacing="0.33">0.554</text>
<text x="717.17" y="985.60" font-size="9.3" text-anchor="middle" class="r" letter-spacing="0.33">0.684</text>
<text x="765.44" y="985.60" font-size="9.3" text-anchor="middle" class="r" letter-spacing="0.33">4.944</text>
<text x="61.11" y="997.40" font-size="9.3" letter-spacing="0.33">3</text>
<text x="109.00" y="997.40" font-size="9.3" text-anchor="middle" letter-spacing="0.33">5L</text>
<text x="138.11" y="997.40" font-size="9.3" text-anchor="middle" letter-spacing="0.33">STD</text>
<text x="174.39" y="997.40" font-size="9.3" text-anchor="middle" letter-spacing="0.33">40</text>
<text x="225.00" y="997.40" font-size="9.3" text-anchor="middle" class="r" letter-spacing="0.33">5.49</text>
<text x="423.61" y="997.40" font-size="9.3" text-anchor="middle" class="b" letter-spacing="0.33">0.216</text>
<text x="274.89" y="997.40" font-size="9.3" text-anchor="middle" class="r" letter-spacing="0.33">88.9</text>
<text x="474.28" y="997.40" font-size="9.3" text-anchor="middle" class="b" letter-spacing="0.33">3.5</text>
<text x="322.39" y="997.40" font-size="9.3" text-anchor="middle" class="r" letter-spacing="0.33">77.92</text>
<text x="521.83" y="997.40" font-size="9.3" text-anchor="middle" class="b" letter-spacing="0.33">3.068</text>
<text x="371.55" y="997.40" font-size="9.3" text-anchor="middle" class="r" letter-spacing="0.33">11.29</text>
<text x="570.72" y="997.40" font-size="9.3" text-anchor="middle" class="b" letter-spacing="0.33">7.58</text>
<text x="620.05" y="997.40" font-size="9.3" text-anchor="middle" class="r" letter-spacing="0.33">11.290</text>
<text x="668.33" y="997.40" font-size="9.3" text-anchor="middle" class="b" letter-spacing="0.33">0.632</text>
<text x="717.17" y="997.40" font-size="9.3" text-anchor="middle" class="r" letter-spacing="0.33">0.684</text>
<text x="765.44" y="997.40" font-size="9.3" text-anchor="middle" class="r" letter-spacing="0.33">4.769</text>
<text x="61.11" y="1008.80" font-size="9.3" letter-spacing="0.33">3</text>
<text x="109.00" y="1008.80" font-size="9.3" text-anchor="middle" letter-spacing="0.33">5L</text>
<text x="138.11" y="1008.80" font-size="9.3" text-anchor="middle" letter-spacing="0.33">...</text>
<text x="174.39" y="1008.80" font-size="9.3" text-anchor="middle" letter-spacing="0.33">...</text>
<text x="225.00" y="1008.80" font-size="9.3" text-anchor="middle" class="r" letter-spacing="0.33">6.35</text>
<text x="423.61" y="1008.80" font-size="9.3" text-anchor="middle" class="b" letter-spacing="0.33">0.25</text>
<text x="274.89" y="1008.80" font-size="9.3" text-anchor="middle" class="r" letter-spacing="0.33">88.9</text>
<text x="474.28" y="1008.80" font-size="9.3" text-anchor="middle" class="b" letter-spacing="0.33">3.5</text>
<text x="322.39" y="1008.80" font-size="9.3" text-anchor="middle" class="r" letter-spacing="0.33">76.2</text>
<text x="521.83" y="1008.80" font-size="9.3" text-anchor="middle" class="b" letter-spacing="0.33">3</text>
<text x="371.55" y="1008.80" font-size="9.3" text-anchor="middle" class="r" letter-spacing="0.33">12.93</text>
<text x="570.72" y="1008.80" font-size="9.3" text-anchor="middle" class="b" letter-spacing="0.33">8.68</text>
<text x="620.05" y="1008.80" font-size="9.3" text-anchor="middle" class="r" letter-spacing="0.33">12.930</text>
<text x="668.33" y="1008.80" font-size="9.3" text-anchor="middle" class="b" letter-spacing="0.33">0.723</text>
<text x="717.17" y="1008.80" font-size="9.3" text-anchor="middle" class="r" letter-spacing="0.33">0.684</text>
<text x="765.44" y="1008.80" font-size="9.3" text-anchor="middle" class="r" letter-spacing="0.33">4.560</text>
<text x="61.11" y="1020.50" font-size="9.3" letter-spacing="0.33">3</text>
<text x="109.00" y="1020.50" font-size="9.3" text-anchor="middle" letter-spacing="0.33">5L</text>
<text x="138.11" y="1020.50" font-size="9.3" text-anchor="middle" letter-spacing="0.33">...</text>
<text x="174.39" y="1020.50" font-size="9.3" text-anchor="middle" letter-spacing="0.33">...</text>
<text x="225.00" y="1020.50" font-size="9.3" text-anchor="middle" class="r" letter-spacing="0.33">7.14</text>
<text x="423.61" y="1020.50" font-size="9.3" text-anchor="middle" class="b" letter-spacing="0.33">0.281</text>
<text x="274.89" y="1020.50" font-size="9.3" text-anchor="middle" class="r" letter-spacing="0.33">88.9</text>
<text x="474.28" y="1020.50" font-size="9.3" text-anchor="middle" class="b" letter-spacing="0.33">3.5</text>
<text x="322.39" y="1020.50" font-size="9.3" text-anchor="middle" class="r" letter-spacing="0.33">74.62</text>
<text x="521.83" y="1020.50" font-size="9.3" text-anchor="middle" class="b" letter-spacing="0.33">2.938</text>
<text x="371.55" y="1020.50" font-size="9.3" text-anchor="middle" class="r" letter-spacing="0.33">14.4</text>
<text x="570.72" y="1020.50" font-size="9.3" text-anchor="middle" class="b" letter-spacing="0.33">9.66</text>
<text x="620.05" y="1020.50" font-size="9.3" text-anchor="middle" class="r" letter-spacing="0.33">14.400</text>
<text x="668.33" y="1020.50" font-size="9.3" text-anchor="middle" class="b" letter-spacing="0.33">0.805</text>
<text x="717.17" y="1020.50" font-size="9.3" text-anchor="middle" class="r" letter-spacing="0.33">0.684</text>
<text x="765.44" y="1020.50" font-size="9.3" text-anchor="middle" class="r" letter-spacing="0.33">4.373</text>
</g>
</svg>
</body></html>
